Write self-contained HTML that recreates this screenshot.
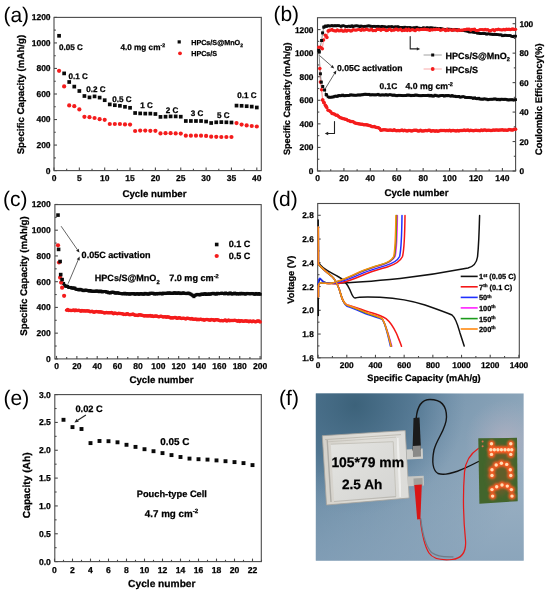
<!DOCTYPE html>
<html><head><meta charset="utf-8"><title>Figure</title>
<style>html,body{margin:0;padding:0;background:#fff;width:550px;height:595px;overflow:hidden}svg{display:block}</style>
</head><body>
<svg width="550" height="595" viewBox="0 0 550 595" font-family="'Liberation Sans', Arial, sans-serif" text-rendering="geometricPrecision">
<rect width="550" height="595" fill="#fff"/>
<defs>
<linearGradient id="bg" x1="0" y1="0" x2="1" y2="0.6">
 <stop offset="0" stop-color="#5a7e98"/><stop offset="0.45" stop-color="#7896ae"/><stop offset="1" stop-color="#9cb1c3"/>
</linearGradient>
<radialGradient id="dark" cx="355" cy="405" r="110" gradientUnits="userSpaceOnUse">
 <stop offset="0" stop-color="#3a6078" stop-opacity="0.95"/><stop offset="0.55" stop-color="#436a86" stop-opacity="0.6"/><stop offset="1" stop-color="#5a7e9c" stop-opacity="0"/>
</radialGradient>
<linearGradient id="bot" x1="0" y1="0" x2="0" y2="1">
 <stop offset="0" stop-color="#82a0b8" stop-opacity="0"/><stop offset="1" stop-color="#84a0b8" stop-opacity="0.7"/>
</linearGradient>
<radialGradient id="pinkglow" cx="505" cy="440" r="40" gradientUnits="userSpaceOnUse">
 <stop offset="0" stop-color="#d0b8c6" stop-opacity="0.45"/><stop offset="1" stop-color="#c0b8c8" stop-opacity="0"/>
</radialGradient>
<linearGradient id="pouch" x1="0" y1="0" x2="1" y2="1">
 <stop offset="0" stop-color="#e4e4e1"/><stop offset="0.5" stop-color="#dcdcd9"/><stop offset="1" stop-color="#d4d4d2"/>
</linearGradient>
<linearGradient id="seal" x1="0" y1="0" x2="1" y2="0">
 <stop offset="0" stop-color="#d4d1ca"/><stop offset="0.5" stop-color="#e0ded8"/><stop offset="1" stop-color="#dcdcd9"/>
</linearGradient>
<filter id="glow" x="-80%" y="-80%" width="260%" height="260%"><feGaussianBlur stdDeviation="1.3"/></filter>
<filter id="soft" x="-10%" y="-10%" width="120%" height="120%"><feGaussianBlur stdDeviation="0.45"/></filter>
<filter id="pcbblur" x="-20%" y="-20%" width="140%" height="140%"><feGaussianBlur stdDeviation="2.2"/></filter>
<clipPath id="photo"><rect x="315.6" y="393.3" width="208.2" height="167.4"/></clipPath>
</defs>
<g clip-path="url(#photo)">
<rect x="315.6" y="393.3" width="208.2" height="167.4" fill="url(#bg)"/>
<rect x="315.6" y="393.3" width="208.2" height="167.4" fill="url(#dark)"/>
<rect x="315.6" y="470" width="208.2" height="91" fill="url(#bot)"/>
<rect x="460" y="393.3" width="64" height="80" fill="url(#pinkglow)"/>
<polygon points="322.3,435.7 405.2,430.6 409.2,498 326.5,505" fill="url(#seal)" filter="url(#soft)"/>
<polygon points="330.8,444.2 393.2,441.7 395.8,496.4 334.2,501.5" fill="url(#pouch)" filter="url(#soft)"/>
<polyline points="330.8,444.2 393.2,441.7 395.8,496.4" fill="none" stroke="#c2bfb8" stroke-width="0.9" filter="url(#soft)"/>
<polyline points="325,439.6 401,434.6" fill="none" stroke="#b8b4aa" stroke-width="0.8" filter="url(#soft)"/>
<polyline points="327.5,441.8 396,437.2" fill="none" stroke="#bcb8ae" stroke-width="0.6" filter="url(#soft)"/>
<polygon points="322.3,435.7 405.2,430.6 409.2,498 326.5,505" fill="none" stroke="#a4a29c" stroke-width="0.8" filter="url(#soft)"/>
<polyline points="327.2,440 331,502" fill="none" stroke="#aeaca6" stroke-width="1.4" filter="url(#soft)"/>
<polyline points="397.5,438 400.5,497" fill="none" stroke="#eeeeec" stroke-width="2.2" filter="url(#soft)"/>
<polyline points="334,501.5 396,496.6" fill="none" stroke="#bcbab4" stroke-width="1.2" filter="url(#soft)"/>
<polygon points="406.5,449.5 422.7,448.6 423,458.8 407,459.4" fill="#cfcfcb" filter="url(#soft)"/>
<polygon points="407.5,476.5 423.7,475.8 424,485.6 408,486.2" fill="#c6c6c2" filter="url(#soft)"/>
<path d="M416.2,418 C417.5,405 423,399.5 430,399.5 C440,399.5 446.5,405 446.5,417 C446.5,429 437,438 434,450 C432,460 432.5,470 438,473.5 C448,477 466,468 478.5,461.5" fill="none" stroke="#141414" stroke-width="1.4" stroke-linejoin="round" stroke-linecap="round" />
<polygon points="413.5,418 419.5,417.5 421,450 412.5,450.5" fill="#1b1b1b"/>
<polygon points="412.8,446 420.8,445.6 421,456.6 413,457" fill="#8a8a88"/>
<path d="M478.3,448.5 C470,454 465.5,461 464.5,472 C463,492 463.5,520 465.5,540 C466.5,552 462,558.5 452,559.5 C441,560.5 433,559 429,553 C424.5,546 421.8,533 420.3,519" fill="none" stroke="#e61a1a" stroke-width="1.25" stroke-linejoin="round" stroke-linecap="round" />
<path d="M420.8,519 C422.5,534 425.5,546 431.5,552.5 C437,556.5 445,557.2 453,556.8" fill="none" stroke="#6f7c88" stroke-width="1.3" stroke-linejoin="round" stroke-linecap="round" />
<polygon points="413.5,478.5 422.5,478 422.8,486 413.8,486.4" fill="#a2a29e"/>
<polygon points="414.3,485 421.8,484.6 420.4,519 417.2,519.4" fill="#d81616"/>
<polygon points="478.3,438.3 517,437.8 517.7,501.2 479.4,503.7" fill="#42652c"/>
<ellipse cx="500" cy="470" rx="13" ry="26" fill="#7a5a2a" opacity="0.55" filter="url(#pcbblur)"/>
<circle cx="491.5" cy="443.8" r="3.5" fill="#ff5a22" filter="url(#glow)"/>
<circle cx="510.8" cy="443.8" r="3.5" fill="#ff5a22" filter="url(#glow)"/>
<circle cx="490.9" cy="449.7" r="3.5" fill="#ff5a22" filter="url(#glow)"/>
<circle cx="494.4" cy="449.7" r="3.5" fill="#ff5a22" filter="url(#glow)"/>
<circle cx="497.9" cy="449.7" r="3.5" fill="#ff5a22" filter="url(#glow)"/>
<circle cx="501.4" cy="449.7" r="3.5" fill="#ff5a22" filter="url(#glow)"/>
<circle cx="505" cy="449.7" r="3.5" fill="#ff5a22" filter="url(#glow)"/>
<circle cx="508.5" cy="449.7" r="3.5" fill="#ff5a22" filter="url(#glow)"/>
<circle cx="511.7" cy="449.7" r="3.5" fill="#ff5a22" filter="url(#glow)"/>
<circle cx="491.5" cy="454.4" r="3.5" fill="#ff5a22" filter="url(#glow)"/>
<circle cx="510.8" cy="454.4" r="3.5" fill="#ff5a22" filter="url(#glow)"/>
<circle cx="496.2" cy="465" r="3.5" fill="#ff5a22" filter="url(#glow)"/>
<circle cx="501.4" cy="463.2" r="3.5" fill="#ff5a22" filter="url(#glow)"/>
<circle cx="506.7" cy="464.4" r="3.5" fill="#ff5a22" filter="url(#glow)"/>
<circle cx="492" cy="469.7" r="3.5" fill="#ff5a22" filter="url(#glow)"/>
<circle cx="510.3" cy="469.7" r="3.5" fill="#ff5a22" filter="url(#glow)"/>
<circle cx="492" cy="475.5" r="3.5" fill="#ff5a22" filter="url(#glow)"/>
<circle cx="510.8" cy="475.5" r="3.5" fill="#ff5a22" filter="url(#glow)"/>
<circle cx="496.7" cy="486.7" r="3.5" fill="#ff5a22" filter="url(#glow)"/>
<circle cx="502" cy="485" r="3.5" fill="#ff5a22" filter="url(#glow)"/>
<circle cx="507.3" cy="486.1" r="3.5" fill="#ff5a22" filter="url(#glow)"/>
<circle cx="492" cy="489.6" r="3.5" fill="#ff5a22" filter="url(#glow)"/>
<circle cx="511.4" cy="489.6" r="3.5" fill="#ff5a22" filter="url(#glow)"/>
<circle cx="492.6" cy="496.1" r="3.5" fill="#ff5a22" filter="url(#glow)"/>
<circle cx="512" cy="496.1" r="3.5" fill="#ff5a22" filter="url(#glow)"/>
<circle cx="491.5" cy="443.8" r="1.7" fill="#ffdcb4" filter="url(#soft)"/>
<circle cx="510.8" cy="443.8" r="1.7" fill="#ffdcb4" filter="url(#soft)"/>
<circle cx="490.9" cy="449.7" r="1.7" fill="#ffdcb4" filter="url(#soft)"/>
<circle cx="494.4" cy="449.7" r="1.7" fill="#ffdcb4" filter="url(#soft)"/>
<circle cx="497.9" cy="449.7" r="1.7" fill="#ffdcb4" filter="url(#soft)"/>
<circle cx="501.4" cy="449.7" r="1.7" fill="#ffdcb4" filter="url(#soft)"/>
<circle cx="505" cy="449.7" r="1.7" fill="#ffdcb4" filter="url(#soft)"/>
<circle cx="508.5" cy="449.7" r="1.7" fill="#ffdcb4" filter="url(#soft)"/>
<circle cx="511.7" cy="449.7" r="1.7" fill="#ffdcb4" filter="url(#soft)"/>
<circle cx="491.5" cy="454.4" r="1.7" fill="#ffdcb4" filter="url(#soft)"/>
<circle cx="510.8" cy="454.4" r="1.7" fill="#ffdcb4" filter="url(#soft)"/>
<circle cx="496.2" cy="465" r="1.7" fill="#ffdcb4" filter="url(#soft)"/>
<circle cx="501.4" cy="463.2" r="1.7" fill="#ffdcb4" filter="url(#soft)"/>
<circle cx="506.7" cy="464.4" r="1.7" fill="#ffdcb4" filter="url(#soft)"/>
<circle cx="492" cy="469.7" r="1.7" fill="#ffdcb4" filter="url(#soft)"/>
<circle cx="510.3" cy="469.7" r="1.7" fill="#ffdcb4" filter="url(#soft)"/>
<circle cx="492" cy="475.5" r="1.7" fill="#ffdcb4" filter="url(#soft)"/>
<circle cx="510.8" cy="475.5" r="1.7" fill="#ffdcb4" filter="url(#soft)"/>
<circle cx="496.7" cy="486.7" r="1.7" fill="#ffdcb4" filter="url(#soft)"/>
<circle cx="502" cy="485" r="1.7" fill="#ffdcb4" filter="url(#soft)"/>
<circle cx="507.3" cy="486.1" r="1.7" fill="#ffdcb4" filter="url(#soft)"/>
<circle cx="492" cy="489.6" r="1.7" fill="#ffdcb4" filter="url(#soft)"/>
<circle cx="511.4" cy="489.6" r="1.7" fill="#ffdcb4" filter="url(#soft)"/>
<circle cx="492.6" cy="496.1" r="1.7" fill="#ffdcb4" filter="url(#soft)"/>
<circle cx="512" cy="496.1" r="1.7" fill="#ffdcb4" filter="url(#soft)"/>
<circle cx="482.6" cy="441.5" r="1" fill="#e07050"/><circle cx="482.6" cy="446.2" r="1" fill="#e07050"/>
</g>
<text x="331.40" y="466.60" font-size="13.9" text-anchor="start" font-weight="bold" fill="#000" stroke="#000" stroke-width="0.25" >105*79 mm</text>
<text x="342.00" y="488.80" font-size="13.6" text-anchor="start" font-weight="bold" fill="#000" stroke="#000" stroke-width="0.25" >2.5 Ah</text>
<rect x="54.00" y="17.40" width="207.30" height="153.20" fill="none" stroke="#4a4a4a" stroke-width="1.1"/>
<line x1="54.00" y1="170.60" x2="54.00" y2="167.60" stroke="#4a4a4a" stroke-width="1.1" />
<line x1="79.35" y1="170.60" x2="79.35" y2="167.60" stroke="#4a4a4a" stroke-width="1.1" />
<line x1="104.70" y1="170.60" x2="104.70" y2="167.60" stroke="#4a4a4a" stroke-width="1.1" />
<line x1="130.05" y1="170.60" x2="130.05" y2="167.60" stroke="#4a4a4a" stroke-width="1.1" />
<line x1="155.40" y1="170.60" x2="155.40" y2="167.60" stroke="#4a4a4a" stroke-width="1.1" />
<line x1="180.75" y1="170.60" x2="180.75" y2="167.60" stroke="#4a4a4a" stroke-width="1.1" />
<line x1="206.10" y1="170.60" x2="206.10" y2="167.60" stroke="#4a4a4a" stroke-width="1.1" />
<line x1="231.45" y1="170.60" x2="231.45" y2="167.60" stroke="#4a4a4a" stroke-width="1.1" />
<line x1="256.80" y1="170.60" x2="256.80" y2="167.60" stroke="#4a4a4a" stroke-width="1.1" />
<line x1="66.67" y1="170.60" x2="66.67" y2="168.80" stroke="#4a4a4a" stroke-width="1.1" />
<line x1="92.03" y1="170.60" x2="92.03" y2="168.80" stroke="#4a4a4a" stroke-width="1.1" />
<line x1="117.38" y1="170.60" x2="117.38" y2="168.80" stroke="#4a4a4a" stroke-width="1.1" />
<line x1="142.73" y1="170.60" x2="142.73" y2="168.80" stroke="#4a4a4a" stroke-width="1.1" />
<line x1="168.07" y1="170.60" x2="168.07" y2="168.80" stroke="#4a4a4a" stroke-width="1.1" />
<line x1="193.43" y1="170.60" x2="193.43" y2="168.80" stroke="#4a4a4a" stroke-width="1.1" />
<line x1="218.78" y1="170.60" x2="218.78" y2="168.80" stroke="#4a4a4a" stroke-width="1.1" />
<line x1="244.12" y1="170.60" x2="244.12" y2="168.80" stroke="#4a4a4a" stroke-width="1.1" />
<line x1="54.00" y1="170.60" x2="57.00" y2="170.60" stroke="#4a4a4a" stroke-width="1.1" />
<line x1="54.00" y1="145.07" x2="57.00" y2="145.07" stroke="#4a4a4a" stroke-width="1.1" />
<line x1="54.00" y1="119.53" x2="57.00" y2="119.53" stroke="#4a4a4a" stroke-width="1.1" />
<line x1="54.00" y1="94.00" x2="57.00" y2="94.00" stroke="#4a4a4a" stroke-width="1.1" />
<line x1="54.00" y1="68.46" x2="57.00" y2="68.46" stroke="#4a4a4a" stroke-width="1.1" />
<line x1="54.00" y1="42.93" x2="57.00" y2="42.93" stroke="#4a4a4a" stroke-width="1.1" />
<line x1="54.00" y1="17.40" x2="57.00" y2="17.40" stroke="#4a4a4a" stroke-width="1.1" />
<line x1="54.00" y1="157.83" x2="55.80" y2="157.83" stroke="#4a4a4a" stroke-width="1.1" />
<line x1="54.00" y1="132.30" x2="55.80" y2="132.30" stroke="#4a4a4a" stroke-width="1.1" />
<line x1="54.00" y1="106.76" x2="55.80" y2="106.76" stroke="#4a4a4a" stroke-width="1.1" />
<line x1="54.00" y1="81.23" x2="55.80" y2="81.23" stroke="#4a4a4a" stroke-width="1.1" />
<line x1="54.00" y1="55.70" x2="55.80" y2="55.70" stroke="#4a4a4a" stroke-width="1.1" />
<line x1="54.00" y1="30.16" x2="55.80" y2="30.16" stroke="#4a4a4a" stroke-width="1.1" />
<text x="54.00" y="181.20" font-size="8.5" text-anchor="middle" font-weight="bold" fill="#000" stroke="#000" stroke-width="0.25" >0</text>
<text x="79.35" y="181.20" font-size="8.5" text-anchor="middle" font-weight="bold" fill="#000" stroke="#000" stroke-width="0.25" >5</text>
<text x="104.70" y="181.20" font-size="8.5" text-anchor="middle" font-weight="bold" fill="#000" stroke="#000" stroke-width="0.25" >10</text>
<text x="130.05" y="181.20" font-size="8.5" text-anchor="middle" font-weight="bold" fill="#000" stroke="#000" stroke-width="0.25" >15</text>
<text x="155.40" y="181.20" font-size="8.5" text-anchor="middle" font-weight="bold" fill="#000" stroke="#000" stroke-width="0.25" >20</text>
<text x="180.75" y="181.20" font-size="8.5" text-anchor="middle" font-weight="bold" fill="#000" stroke="#000" stroke-width="0.25" >25</text>
<text x="206.10" y="181.20" font-size="8.5" text-anchor="middle" font-weight="bold" fill="#000" stroke="#000" stroke-width="0.25" >30</text>
<text x="231.45" y="181.20" font-size="8.5" text-anchor="middle" font-weight="bold" fill="#000" stroke="#000" stroke-width="0.25" >35</text>
<text x="256.80" y="181.20" font-size="8.5" text-anchor="middle" font-weight="bold" fill="#000" stroke="#000" stroke-width="0.25" >40</text>
<text x="50.60" y="173.50" font-size="8.5" text-anchor="end" font-weight="bold" fill="#000" stroke="#000" stroke-width="0.25" >0</text>
<text x="50.60" y="147.97" font-size="8.5" text-anchor="end" font-weight="bold" fill="#000" stroke="#000" stroke-width="0.25" >200</text>
<text x="50.60" y="122.43" font-size="8.5" text-anchor="end" font-weight="bold" fill="#000" stroke="#000" stroke-width="0.25" >400</text>
<text x="50.60" y="96.90" font-size="8.5" text-anchor="end" font-weight="bold" fill="#000" stroke="#000" stroke-width="0.25" >600</text>
<text x="50.60" y="71.36" font-size="8.5" text-anchor="end" font-weight="bold" fill="#000" stroke="#000" stroke-width="0.25" >800</text>
<text x="50.60" y="45.83" font-size="8.5" text-anchor="end" font-weight="bold" fill="#000" stroke="#000" stroke-width="0.25" >1000</text>
<text x="50.60" y="20.30" font-size="8.5" text-anchor="end" font-weight="bold" fill="#000" stroke="#000" stroke-width="0.25" >1200</text>
<text x="154.50" y="196.60" font-size="9.7" text-anchor="middle" font-weight="bold" fill="#000" stroke="#000" stroke-width="0.25" >Cycle number</text>
<text transform="translate(24.2,94.6) rotate(-90)" font-size="9.7" text-anchor="middle" font-weight="bold" fill="#000" stroke="#000" stroke-width="0.25">Specific Capacity (mAh/g)</text>
<circle cx="59.07" cy="70.80" r="2.1" fill="#f41c1c"/>
<circle cx="64.14" cy="86.40" r="2.1" fill="#f41c1c"/>
<circle cx="69.21" cy="105.40" r="2.1" fill="#f41c1c"/>
<circle cx="74.28" cy="106.20" r="2.1" fill="#f41c1c"/>
<circle cx="79.35" cy="109.40" r="2.1" fill="#f41c1c"/>
<circle cx="84.42" cy="116.80" r="2.1" fill="#f41c1c"/>
<circle cx="89.49" cy="117.20" r="2.1" fill="#f41c1c"/>
<circle cx="94.56" cy="118.00" r="2.1" fill="#f41c1c"/>
<circle cx="99.63" cy="119.20" r="2.1" fill="#f41c1c"/>
<circle cx="104.70" cy="119.80" r="2.1" fill="#f41c1c"/>
<circle cx="109.77" cy="124.00" r="2.1" fill="#f41c1c"/>
<circle cx="114.84" cy="124.00" r="2.1" fill="#f41c1c"/>
<circle cx="119.91" cy="124.00" r="2.1" fill="#f41c1c"/>
<circle cx="124.98" cy="124.40" r="2.1" fill="#f41c1c"/>
<circle cx="130.05" cy="124.60" r="2.1" fill="#f41c1c"/>
<circle cx="135.12" cy="131.00" r="2.1" fill="#f41c1c"/>
<circle cx="140.19" cy="130.60" r="2.1" fill="#f41c1c"/>
<circle cx="145.26" cy="130.60" r="2.1" fill="#f41c1c"/>
<circle cx="150.33" cy="130.80" r="2.1" fill="#f41c1c"/>
<circle cx="155.40" cy="130.80" r="2.1" fill="#f41c1c"/>
<circle cx="160.47" cy="133.40" r="2.1" fill="#f41c1c"/>
<circle cx="165.54" cy="133.20" r="2.1" fill="#f41c1c"/>
<circle cx="170.61" cy="133.20" r="2.1" fill="#f41c1c"/>
<circle cx="175.68" cy="133.40" r="2.1" fill="#f41c1c"/>
<circle cx="180.75" cy="133.60" r="2.1" fill="#f41c1c"/>
<circle cx="185.82" cy="135.70" r="2.1" fill="#f41c1c"/>
<circle cx="190.89" cy="135.70" r="2.1" fill="#f41c1c"/>
<circle cx="195.96" cy="135.70" r="2.1" fill="#f41c1c"/>
<circle cx="201.03" cy="135.70" r="2.1" fill="#f41c1c"/>
<circle cx="206.10" cy="135.90" r="2.1" fill="#f41c1c"/>
<circle cx="211.17" cy="136.70" r="2.1" fill="#f41c1c"/>
<circle cx="216.24" cy="136.80" r="2.1" fill="#f41c1c"/>
<circle cx="221.31" cy="137.00" r="2.1" fill="#f41c1c"/>
<circle cx="226.38" cy="137.00" r="2.1" fill="#f41c1c"/>
<circle cx="231.45" cy="137.00" r="2.1" fill="#f41c1c"/>
<circle cx="236.52" cy="123.10" r="2.1" fill="#f41c1c"/>
<circle cx="241.59" cy="124.60" r="2.1" fill="#f41c1c"/>
<circle cx="246.66" cy="125.40" r="2.1" fill="#f41c1c"/>
<circle cx="251.73" cy="126.00" r="2.1" fill="#f41c1c"/>
<circle cx="256.80" cy="126.50" r="2.1" fill="#f41c1c"/>
<rect x="57.22" y="33.95" width="3.7" height="3.7" fill="#0a0a0a"/>
<rect x="62.29" y="71.55" width="3.7" height="3.7" fill="#0a0a0a"/>
<rect x="67.36" y="80.15" width="3.7" height="3.7" fill="#0a0a0a"/>
<rect x="72.43" y="84.75" width="3.7" height="3.7" fill="#0a0a0a"/>
<rect x="77.50" y="89.15" width="3.7" height="3.7" fill="#0a0a0a"/>
<rect x="82.57" y="94.15" width="3.7" height="3.7" fill="#0a0a0a"/>
<rect x="87.64" y="95.55" width="3.7" height="3.7" fill="#0a0a0a"/>
<rect x="92.71" y="94.55" width="3.7" height="3.7" fill="#0a0a0a"/>
<rect x="97.78" y="95.75" width="3.7" height="3.7" fill="#0a0a0a"/>
<rect x="102.85" y="98.35" width="3.7" height="3.7" fill="#0a0a0a"/>
<rect x="107.92" y="102.55" width="3.7" height="3.7" fill="#0a0a0a"/>
<rect x="112.99" y="103.35" width="3.7" height="3.7" fill="#0a0a0a"/>
<rect x="118.06" y="103.95" width="3.7" height="3.7" fill="#0a0a0a"/>
<rect x="123.13" y="104.95" width="3.7" height="3.7" fill="#0a0a0a"/>
<rect x="128.20" y="105.95" width="3.7" height="3.7" fill="#0a0a0a"/>
<rect x="133.27" y="111.15" width="3.7" height="3.7" fill="#0a0a0a"/>
<rect x="138.34" y="111.55" width="3.7" height="3.7" fill="#0a0a0a"/>
<rect x="143.41" y="111.75" width="3.7" height="3.7" fill="#0a0a0a"/>
<rect x="148.48" y="111.75" width="3.7" height="3.7" fill="#0a0a0a"/>
<rect x="153.55" y="112.15" width="3.7" height="3.7" fill="#0a0a0a"/>
<rect x="158.62" y="115.05" width="3.7" height="3.7" fill="#0a0a0a"/>
<rect x="163.69" y="114.85" width="3.7" height="3.7" fill="#0a0a0a"/>
<rect x="168.76" y="114.55" width="3.7" height="3.7" fill="#0a0a0a"/>
<rect x="173.83" y="114.55" width="3.7" height="3.7" fill="#0a0a0a"/>
<rect x="178.90" y="114.85" width="3.7" height="3.7" fill="#0a0a0a"/>
<rect x="183.97" y="119.15" width="3.7" height="3.7" fill="#0a0a0a"/>
<rect x="189.04" y="119.15" width="3.7" height="3.7" fill="#0a0a0a"/>
<rect x="194.11" y="119.15" width="3.7" height="3.7" fill="#0a0a0a"/>
<rect x="199.18" y="119.15" width="3.7" height="3.7" fill="#0a0a0a"/>
<rect x="204.25" y="119.65" width="3.7" height="3.7" fill="#0a0a0a"/>
<rect x="209.32" y="121.15" width="3.7" height="3.7" fill="#0a0a0a"/>
<rect x="214.39" y="120.45" width="3.7" height="3.7" fill="#0a0a0a"/>
<rect x="219.46" y="120.25" width="3.7" height="3.7" fill="#0a0a0a"/>
<rect x="224.53" y="120.45" width="3.7" height="3.7" fill="#0a0a0a"/>
<rect x="229.60" y="120.65" width="3.7" height="3.7" fill="#0a0a0a"/>
<rect x="234.67" y="103.75" width="3.7" height="3.7" fill="#0a0a0a"/>
<rect x="239.74" y="103.95" width="3.7" height="3.7" fill="#0a0a0a"/>
<rect x="244.81" y="104.35" width="3.7" height="3.7" fill="#0a0a0a"/>
<rect x="249.88" y="104.75" width="3.7" height="3.7" fill="#0a0a0a"/>
<rect x="254.95" y="105.65" width="3.7" height="3.7" fill="#0a0a0a"/>
<text x="59.00" y="49.60" font-size="8.1" text-anchor="start" font-weight="bold" fill="#000" stroke="#000" stroke-width="0.25" >0.05 C</text>
<text x="68.60" y="79.20" font-size="8.1" text-anchor="start" font-weight="bold" fill="#000" stroke="#000" stroke-width="0.25" >0.1 C</text>
<text x="86.20" y="92.20" font-size="8.1" text-anchor="start" font-weight="bold" fill="#000" stroke="#000" stroke-width="0.25" >0.2 C</text>
<text x="112.20" y="101.50" font-size="8.1" text-anchor="start" font-weight="bold" fill="#000" stroke="#000" stroke-width="0.25" >0.5 C</text>
<text x="140.20" y="107.50" font-size="8.1" text-anchor="start" font-weight="bold" fill="#000" stroke="#000" stroke-width="0.25" >1 C</text>
<text x="165.80" y="113.40" font-size="8.1" text-anchor="start" font-weight="bold" fill="#000" stroke="#000" stroke-width="0.25" >2 C</text>
<text x="190.80" y="116.40" font-size="8.1" text-anchor="start" font-weight="bold" fill="#000" stroke="#000" stroke-width="0.25" >3 C</text>
<text x="217.00" y="118.10" font-size="8.1" text-anchor="start" font-weight="bold" fill="#000" stroke="#000" stroke-width="0.25" >5 C</text>
<text x="237.20" y="98.40" font-size="8.1" text-anchor="start" font-weight="bold" fill="#000" stroke="#000" stroke-width="0.25" >0.1 C</text>
<text x="120.40" y="49.70" font-size="8.2" text-anchor="start" font-weight="bold" fill="#000" stroke="#000" stroke-width="0.25" >4.0 mg cm<tspan dy="-3" font-size="5.2">-2</tspan></text>
<rect x="177.60" y="40.30" width="3.2" height="3.2" fill="#0a0a0a"/>
<circle cx="180.00" cy="53.30" r="1.9" fill="#f41c1c"/>
<text x="191.20" y="44.80" font-size="7.2" text-anchor="start" font-weight="bold" fill="#000" stroke="#000" stroke-width="0.25" >HPCs/S@MnO<tspan dy="2" font-size="5">2</tspan></text>
<text x="191.20" y="56.30" font-size="7.2" text-anchor="start" font-weight="bold" fill="#000" stroke="#000" stroke-width="0.25" >HPCs/S</text>
<rect x="317.50" y="17.70" width="198.10" height="153.30" fill="none" stroke="#4a4a4a" stroke-width="1.1"/>
<line x1="317.50" y1="171.00" x2="317.50" y2="168.00" stroke="#4a4a4a" stroke-width="1.1" />
<line x1="343.91" y1="171.00" x2="343.91" y2="168.00" stroke="#4a4a4a" stroke-width="1.1" />
<line x1="370.33" y1="171.00" x2="370.33" y2="168.00" stroke="#4a4a4a" stroke-width="1.1" />
<line x1="396.74" y1="171.00" x2="396.74" y2="168.00" stroke="#4a4a4a" stroke-width="1.1" />
<line x1="423.16" y1="171.00" x2="423.16" y2="168.00" stroke="#4a4a4a" stroke-width="1.1" />
<line x1="449.57" y1="171.00" x2="449.57" y2="168.00" stroke="#4a4a4a" stroke-width="1.1" />
<line x1="475.98" y1="171.00" x2="475.98" y2="168.00" stroke="#4a4a4a" stroke-width="1.1" />
<line x1="502.40" y1="171.00" x2="502.40" y2="168.00" stroke="#4a4a4a" stroke-width="1.1" />
<line x1="330.71" y1="171.00" x2="330.71" y2="169.20" stroke="#4a4a4a" stroke-width="1.1" />
<line x1="357.12" y1="171.00" x2="357.12" y2="169.20" stroke="#4a4a4a" stroke-width="1.1" />
<line x1="383.53" y1="171.00" x2="383.53" y2="169.20" stroke="#4a4a4a" stroke-width="1.1" />
<line x1="409.95" y1="171.00" x2="409.95" y2="169.20" stroke="#4a4a4a" stroke-width="1.1" />
<line x1="436.36" y1="171.00" x2="436.36" y2="169.20" stroke="#4a4a4a" stroke-width="1.1" />
<line x1="462.78" y1="171.00" x2="462.78" y2="169.20" stroke="#4a4a4a" stroke-width="1.1" />
<line x1="489.19" y1="171.00" x2="489.19" y2="169.20" stroke="#4a4a4a" stroke-width="1.1" />
<line x1="515.61" y1="171.00" x2="515.61" y2="169.20" stroke="#4a4a4a" stroke-width="1.1" />
<line x1="317.50" y1="171.00" x2="320.50" y2="171.00" stroke="#4a4a4a" stroke-width="1.1" />
<line x1="317.50" y1="147.43" x2="320.50" y2="147.43" stroke="#4a4a4a" stroke-width="1.1" />
<line x1="317.50" y1="123.86" x2="320.50" y2="123.86" stroke="#4a4a4a" stroke-width="1.1" />
<line x1="317.50" y1="100.29" x2="320.50" y2="100.29" stroke="#4a4a4a" stroke-width="1.1" />
<line x1="317.50" y1="76.72" x2="320.50" y2="76.72" stroke="#4a4a4a" stroke-width="1.1" />
<line x1="317.50" y1="53.15" x2="320.50" y2="53.15" stroke="#4a4a4a" stroke-width="1.1" />
<line x1="317.50" y1="29.58" x2="320.50" y2="29.58" stroke="#4a4a4a" stroke-width="1.1" />
<line x1="317.50" y1="159.22" x2="319.30" y2="159.22" stroke="#4a4a4a" stroke-width="1.1" />
<line x1="317.50" y1="135.65" x2="319.30" y2="135.65" stroke="#4a4a4a" stroke-width="1.1" />
<line x1="317.50" y1="112.08" x2="319.30" y2="112.08" stroke="#4a4a4a" stroke-width="1.1" />
<line x1="317.50" y1="88.50" x2="319.30" y2="88.50" stroke="#4a4a4a" stroke-width="1.1" />
<line x1="317.50" y1="64.94" x2="319.30" y2="64.94" stroke="#4a4a4a" stroke-width="1.1" />
<line x1="317.50" y1="41.37" x2="319.30" y2="41.37" stroke="#4a4a4a" stroke-width="1.1" />
<line x1="515.60" y1="171.00" x2="512.60" y2="171.00" stroke="#4a4a4a" stroke-width="1.1" />
<line x1="515.60" y1="141.54" x2="512.60" y2="141.54" stroke="#4a4a4a" stroke-width="1.1" />
<line x1="515.60" y1="112.08" x2="512.60" y2="112.08" stroke="#4a4a4a" stroke-width="1.1" />
<line x1="515.60" y1="82.61" x2="512.60" y2="82.61" stroke="#4a4a4a" stroke-width="1.1" />
<line x1="515.60" y1="53.15" x2="512.60" y2="53.15" stroke="#4a4a4a" stroke-width="1.1" />
<line x1="515.60" y1="23.69" x2="512.60" y2="23.69" stroke="#4a4a4a" stroke-width="1.1" />
<line x1="515.60" y1="156.27" x2="513.80" y2="156.27" stroke="#4a4a4a" stroke-width="1.1" />
<line x1="515.60" y1="126.81" x2="513.80" y2="126.81" stroke="#4a4a4a" stroke-width="1.1" />
<line x1="515.60" y1="97.34" x2="513.80" y2="97.34" stroke="#4a4a4a" stroke-width="1.1" />
<line x1="515.60" y1="67.88" x2="513.80" y2="67.88" stroke="#4a4a4a" stroke-width="1.1" />
<line x1="515.60" y1="38.42" x2="513.80" y2="38.42" stroke="#4a4a4a" stroke-width="1.1" />
<text x="317.50" y="181.00" font-size="8.5" text-anchor="middle" font-weight="bold" fill="#000" stroke="#000" stroke-width="0.25" >0</text>
<text x="343.91" y="181.00" font-size="8.5" text-anchor="middle" font-weight="bold" fill="#000" stroke="#000" stroke-width="0.25" >20</text>
<text x="370.33" y="181.00" font-size="8.5" text-anchor="middle" font-weight="bold" fill="#000" stroke="#000" stroke-width="0.25" >40</text>
<text x="396.74" y="181.00" font-size="8.5" text-anchor="middle" font-weight="bold" fill="#000" stroke="#000" stroke-width="0.25" >60</text>
<text x="423.16" y="181.00" font-size="8.5" text-anchor="middle" font-weight="bold" fill="#000" stroke="#000" stroke-width="0.25" >80</text>
<text x="449.57" y="181.00" font-size="8.5" text-anchor="middle" font-weight="bold" fill="#000" stroke="#000" stroke-width="0.25" >100</text>
<text x="475.98" y="181.00" font-size="8.5" text-anchor="middle" font-weight="bold" fill="#000" stroke="#000" stroke-width="0.25" >120</text>
<text x="502.40" y="181.00" font-size="8.5" text-anchor="middle" font-weight="bold" fill="#000" stroke="#000" stroke-width="0.25" >140</text>
<text x="313.40" y="174.00" font-size="8.3" text-anchor="end" font-weight="bold" fill="#000" stroke="#000" stroke-width="0.25" >0</text>
<text x="313.40" y="150.43" font-size="8.3" text-anchor="end" font-weight="bold" fill="#000" stroke="#000" stroke-width="0.25" >200</text>
<text x="313.40" y="126.86" font-size="8.3" text-anchor="end" font-weight="bold" fill="#000" stroke="#000" stroke-width="0.25" >400</text>
<text x="313.40" y="103.29" font-size="8.3" text-anchor="end" font-weight="bold" fill="#000" stroke="#000" stroke-width="0.25" >600</text>
<text x="313.40" y="79.72" font-size="8.3" text-anchor="end" font-weight="bold" fill="#000" stroke="#000" stroke-width="0.25" >800</text>
<text x="313.40" y="56.15" font-size="8.3" text-anchor="end" font-weight="bold" fill="#000" stroke="#000" stroke-width="0.25" >1000</text>
<text x="313.40" y="32.58" font-size="8.3" text-anchor="end" font-weight="bold" fill="#000" stroke="#000" stroke-width="0.25" >1200</text>
<text x="519.40" y="174.00" font-size="8.3" text-anchor="start" font-weight="bold" fill="#000" stroke="#000" stroke-width="0.25" >0</text>
<text x="519.40" y="144.54" font-size="8.3" text-anchor="start" font-weight="bold" fill="#000" stroke="#000" stroke-width="0.25" >20</text>
<text x="519.40" y="115.08" font-size="8.3" text-anchor="start" font-weight="bold" fill="#000" stroke="#000" stroke-width="0.25" >40</text>
<text x="519.40" y="85.61" font-size="8.3" text-anchor="start" font-weight="bold" fill="#000" stroke="#000" stroke-width="0.25" >60</text>
<text x="519.40" y="56.15" font-size="8.3" text-anchor="start" font-weight="bold" fill="#000" stroke="#000" stroke-width="0.25" >80</text>
<text x="519.40" y="26.69" font-size="8.3" text-anchor="start" font-weight="bold" fill="#000" stroke="#000" stroke-width="0.25" >100</text>
<text x="416.50" y="195.50" font-size="9.7" text-anchor="middle" font-weight="bold" fill="#000" stroke="#000" stroke-width="0.25" >Cycle number</text>
<text transform="translate(289.6,98.8) rotate(-90)" font-size="9.15" text-anchor="middle" font-weight="bold" fill="#000" stroke="#000" stroke-width="0.25">Specific Capacity (mAh/g)</text>
<text transform="translate(541.6,99.3) rotate(-90)" font-size="9.55" text-anchor="middle" font-weight="bold" fill="#000" stroke="#000" stroke-width="0.25">Coulombic Efficiency(%)</text>
<polyline points="319.80,68.50 320.40,82.10 321.60,89.70 322.60,100.00 323.80,102.60 326.10,106.40 327.60,109.40 331.00,112.60 335.80,115.10 343.80,118.90 353.30,122.20 363.00,124.60 371.00,126.10 379.00,127.30 380.50,130.60 383.00,130.20 386.90,129.90 400.00,130.40 440.00,130.80 480.00,130.40 515.00,129.60" fill="none" stroke="#f87070" stroke-width="0.8" stroke-linejoin="round" stroke-linecap="round" />
<polyline points="318.80,47.30 320.40,47.30 322.30,48.80 323.50,40.00 325.40,35.20 326.90,37.40 328.50,31.00 332.00,30.20 340.00,30.50 360.00,30.00 380.00,29.80 400.00,29.90 430.00,30.00 460.00,29.80 490.00,30.00 515.00,29.80" fill="none" stroke="#f87070" stroke-width="0.8" stroke-linejoin="round" stroke-linecap="round" />
<polyline points="318.80,50.50 320.40,73.80 321.30,82.10 322.70,86.50 324.60,90.00 326.20,94.50 328.00,96.80 330.00,97.20 334.00,96.50 340.00,95.60 363.00,94.60 380.00,94.80 400.00,95.40 430.00,95.60 452.00,95.80 465.00,97.40 487.00,99.30 515.00,99.60" fill="none" stroke="#777" stroke-width="0.8" stroke-linejoin="round" stroke-linecap="round" />
<polyline points="319.30,51.80 321.60,40.50 322.60,32.90 323.80,27.20 326.00,26.20 330.00,26.00 350.00,26.20 380.00,26.50 400.00,27.20 430.00,28.20 454.00,29.60 470.00,31.60 487.00,34.20 500.00,35.20 515.00,36.20" fill="none" stroke="#777" stroke-width="0.8" stroke-linejoin="round" stroke-linecap="round" />
<polyline points="326.00,26.20 330.00,26.00 350.00,26.20 380.00,26.50 400.00,27.20 430.00,28.20 454.00,29.60 470.00,31.60 487.00,34.20 500.00,35.20 515.00,36.20" fill="none" stroke="#0a0a0a" stroke-width="1.6" stroke-linejoin="round" stroke-linecap="round" />
<rect x="322.80" y="25.55" width="2.6" height="2.6" fill="#0a0a0a"/>
<rect x="324.12" y="24.74" width="2.6" height="2.6" fill="#0a0a0a"/>
<rect x="325.44" y="25.04" width="2.6" height="2.6" fill="#0a0a0a"/>
<rect x="326.77" y="24.28" width="2.6" height="2.6" fill="#0a0a0a"/>
<rect x="328.09" y="24.77" width="2.6" height="2.6" fill="#0a0a0a"/>
<rect x="329.41" y="24.55" width="2.6" height="2.6" fill="#0a0a0a"/>
<rect x="330.73" y="24.19" width="2.6" height="2.6" fill="#0a0a0a"/>
<rect x="332.05" y="24.74" width="2.6" height="2.6" fill="#0a0a0a"/>
<rect x="333.37" y="24.19" width="2.6" height="2.6" fill="#0a0a0a"/>
<rect x="334.69" y="24.68" width="2.6" height="2.6" fill="#0a0a0a"/>
<rect x="336.01" y="24.26" width="2.6" height="2.6" fill="#0a0a0a"/>
<rect x="337.33" y="24.30" width="2.6" height="2.6" fill="#0a0a0a"/>
<rect x="338.65" y="24.71" width="2.6" height="2.6" fill="#0a0a0a"/>
<rect x="339.97" y="25.20" width="2.6" height="2.6" fill="#0a0a0a"/>
<rect x="341.29" y="24.37" width="2.6" height="2.6" fill="#0a0a0a"/>
<rect x="342.61" y="24.51" width="2.6" height="2.6" fill="#0a0a0a"/>
<rect x="343.93" y="25.01" width="2.6" height="2.6" fill="#0a0a0a"/>
<rect x="345.26" y="25.40" width="2.6" height="2.6" fill="#0a0a0a"/>
<rect x="346.58" y="24.97" width="2.6" height="2.6" fill="#0a0a0a"/>
<rect x="347.90" y="24.77" width="2.6" height="2.6" fill="#0a0a0a"/>
<rect x="349.22" y="25.48" width="2.6" height="2.6" fill="#0a0a0a"/>
<rect x="350.54" y="24.37" width="2.6" height="2.6" fill="#0a0a0a"/>
<rect x="351.86" y="25.36" width="2.6" height="2.6" fill="#0a0a0a"/>
<rect x="353.18" y="24.69" width="2.6" height="2.6" fill="#0a0a0a"/>
<rect x="354.50" y="24.53" width="2.6" height="2.6" fill="#0a0a0a"/>
<rect x="355.82" y="24.51" width="2.6" height="2.6" fill="#0a0a0a"/>
<rect x="357.14" y="24.75" width="2.6" height="2.6" fill="#0a0a0a"/>
<rect x="358.46" y="25.38" width="2.6" height="2.6" fill="#0a0a0a"/>
<rect x="359.78" y="24.63" width="2.6" height="2.6" fill="#0a0a0a"/>
<rect x="361.10" y="25.12" width="2.6" height="2.6" fill="#0a0a0a"/>
<rect x="362.42" y="25.20" width="2.6" height="2.6" fill="#0a0a0a"/>
<rect x="363.75" y="24.90" width="2.6" height="2.6" fill="#0a0a0a"/>
<rect x="365.07" y="25.12" width="2.6" height="2.6" fill="#0a0a0a"/>
<rect x="366.39" y="24.55" width="2.6" height="2.6" fill="#0a0a0a"/>
<rect x="367.71" y="24.56" width="2.6" height="2.6" fill="#0a0a0a"/>
<rect x="369.03" y="24.75" width="2.6" height="2.6" fill="#0a0a0a"/>
<rect x="370.35" y="25.33" width="2.6" height="2.6" fill="#0a0a0a"/>
<rect x="371.67" y="25.04" width="2.6" height="2.6" fill="#0a0a0a"/>
<rect x="372.99" y="24.92" width="2.6" height="2.6" fill="#0a0a0a"/>
<rect x="374.31" y="25.26" width="2.6" height="2.6" fill="#0a0a0a"/>
<rect x="375.63" y="25.11" width="2.6" height="2.6" fill="#0a0a0a"/>
<rect x="376.95" y="24.94" width="2.6" height="2.6" fill="#0a0a0a"/>
<rect x="378.27" y="25.55" width="2.6" height="2.6" fill="#0a0a0a"/>
<rect x="379.59" y="25.47" width="2.6" height="2.6" fill="#0a0a0a"/>
<rect x="380.91" y="24.97" width="2.6" height="2.6" fill="#0a0a0a"/>
<rect x="382.23" y="25.41" width="2.6" height="2.6" fill="#0a0a0a"/>
<rect x="383.56" y="25.40" width="2.6" height="2.6" fill="#0a0a0a"/>
<rect x="384.88" y="25.87" width="2.6" height="2.6" fill="#0a0a0a"/>
<rect x="386.20" y="25.74" width="2.6" height="2.6" fill="#0a0a0a"/>
<rect x="387.52" y="25.25" width="2.6" height="2.6" fill="#0a0a0a"/>
<rect x="388.84" y="26.13" width="2.6" height="2.6" fill="#0a0a0a"/>
<rect x="390.16" y="25.14" width="2.6" height="2.6" fill="#0a0a0a"/>
<rect x="391.48" y="25.55" width="2.6" height="2.6" fill="#0a0a0a"/>
<rect x="392.80" y="26.00" width="2.6" height="2.6" fill="#0a0a0a"/>
<rect x="394.12" y="25.32" width="2.6" height="2.6" fill="#0a0a0a"/>
<rect x="395.44" y="25.77" width="2.6" height="2.6" fill="#0a0a0a"/>
<rect x="396.76" y="25.28" width="2.6" height="2.6" fill="#0a0a0a"/>
<rect x="398.08" y="26.08" width="2.6" height="2.6" fill="#0a0a0a"/>
<rect x="399.40" y="26.24" width="2.6" height="2.6" fill="#0a0a0a"/>
<rect x="400.72" y="26.06" width="2.6" height="2.6" fill="#0a0a0a"/>
<rect x="402.05" y="26.46" width="2.6" height="2.6" fill="#0a0a0a"/>
<rect x="403.37" y="25.83" width="2.6" height="2.6" fill="#0a0a0a"/>
<rect x="404.69" y="26.33" width="2.6" height="2.6" fill="#0a0a0a"/>
<rect x="406.01" y="26.26" width="2.6" height="2.6" fill="#0a0a0a"/>
<rect x="407.33" y="26.28" width="2.6" height="2.6" fill="#0a0a0a"/>
<rect x="408.65" y="26.18" width="2.6" height="2.6" fill="#0a0a0a"/>
<rect x="409.97" y="26.68" width="2.6" height="2.6" fill="#0a0a0a"/>
<rect x="411.29" y="26.85" width="2.6" height="2.6" fill="#0a0a0a"/>
<rect x="412.61" y="26.33" width="2.6" height="2.6" fill="#0a0a0a"/>
<rect x="413.93" y="26.60" width="2.6" height="2.6" fill="#0a0a0a"/>
<rect x="415.25" y="25.92" width="2.6" height="2.6" fill="#0a0a0a"/>
<rect x="416.57" y="26.74" width="2.6" height="2.6" fill="#0a0a0a"/>
<rect x="417.89" y="26.72" width="2.6" height="2.6" fill="#0a0a0a"/>
<rect x="419.21" y="27.18" width="2.6" height="2.6" fill="#0a0a0a"/>
<rect x="420.54" y="27.01" width="2.6" height="2.6" fill="#0a0a0a"/>
<rect x="421.86" y="26.41" width="2.6" height="2.6" fill="#0a0a0a"/>
<rect x="423.18" y="26.58" width="2.6" height="2.6" fill="#0a0a0a"/>
<rect x="424.50" y="26.96" width="2.6" height="2.6" fill="#0a0a0a"/>
<rect x="425.82" y="26.23" width="2.6" height="2.6" fill="#0a0a0a"/>
<rect x="427.14" y="26.80" width="2.6" height="2.6" fill="#0a0a0a"/>
<rect x="428.46" y="26.49" width="2.6" height="2.6" fill="#0a0a0a"/>
<rect x="429.78" y="26.50" width="2.6" height="2.6" fill="#0a0a0a"/>
<rect x="431.10" y="26.51" width="2.6" height="2.6" fill="#0a0a0a"/>
<rect x="432.42" y="27.44" width="2.6" height="2.6" fill="#0a0a0a"/>
<rect x="433.74" y="26.75" width="2.6" height="2.6" fill="#0a0a0a"/>
<rect x="435.06" y="26.97" width="2.6" height="2.6" fill="#0a0a0a"/>
<rect x="436.38" y="27.22" width="2.6" height="2.6" fill="#0a0a0a"/>
<rect x="437.70" y="27.87" width="2.6" height="2.6" fill="#0a0a0a"/>
<rect x="439.03" y="27.00" width="2.6" height="2.6" fill="#0a0a0a"/>
<rect x="440.35" y="27.52" width="2.6" height="2.6" fill="#0a0a0a"/>
<rect x="441.67" y="27.72" width="2.6" height="2.6" fill="#0a0a0a"/>
<rect x="442.99" y="28.19" width="2.6" height="2.6" fill="#0a0a0a"/>
<rect x="444.31" y="28.19" width="2.6" height="2.6" fill="#0a0a0a"/>
<rect x="445.63" y="28.32" width="2.6" height="2.6" fill="#0a0a0a"/>
<rect x="446.95" y="27.70" width="2.6" height="2.6" fill="#0a0a0a"/>
<rect x="448.27" y="27.94" width="2.6" height="2.6" fill="#0a0a0a"/>
<rect x="449.59" y="27.95" width="2.6" height="2.6" fill="#0a0a0a"/>
<rect x="450.91" y="28.66" width="2.6" height="2.6" fill="#0a0a0a"/>
<rect x="452.23" y="28.82" width="2.6" height="2.6" fill="#0a0a0a"/>
<rect x="453.55" y="27.99" width="2.6" height="2.6" fill="#0a0a0a"/>
<rect x="454.87" y="28.18" width="2.6" height="2.6" fill="#0a0a0a"/>
<rect x="456.19" y="28.42" width="2.6" height="2.6" fill="#0a0a0a"/>
<rect x="457.51" y="28.58" width="2.6" height="2.6" fill="#0a0a0a"/>
<rect x="458.84" y="29.05" width="2.6" height="2.6" fill="#0a0a0a"/>
<rect x="460.16" y="29.34" width="2.6" height="2.6" fill="#0a0a0a"/>
<rect x="461.48" y="29.11" width="2.6" height="2.6" fill="#0a0a0a"/>
<rect x="462.80" y="28.97" width="2.6" height="2.6" fill="#0a0a0a"/>
<rect x="464.12" y="29.63" width="2.6" height="2.6" fill="#0a0a0a"/>
<rect x="465.44" y="29.74" width="2.6" height="2.6" fill="#0a0a0a"/>
<rect x="466.76" y="30.14" width="2.6" height="2.6" fill="#0a0a0a"/>
<rect x="468.08" y="30.77" width="2.6" height="2.6" fill="#0a0a0a"/>
<rect x="469.40" y="30.64" width="2.6" height="2.6" fill="#0a0a0a"/>
<rect x="470.72" y="30.63" width="2.6" height="2.6" fill="#0a0a0a"/>
<rect x="472.04" y="30.95" width="2.6" height="2.6" fill="#0a0a0a"/>
<rect x="473.36" y="31.22" width="2.6" height="2.6" fill="#0a0a0a"/>
<rect x="474.68" y="30.68" width="2.6" height="2.6" fill="#0a0a0a"/>
<rect x="476.00" y="31.90" width="2.6" height="2.6" fill="#0a0a0a"/>
<rect x="477.33" y="31.96" width="2.6" height="2.6" fill="#0a0a0a"/>
<rect x="478.65" y="32.27" width="2.6" height="2.6" fill="#0a0a0a"/>
<rect x="479.97" y="32.38" width="2.6" height="2.6" fill="#0a0a0a"/>
<rect x="481.29" y="32.10" width="2.6" height="2.6" fill="#0a0a0a"/>
<rect x="482.61" y="32.31" width="2.6" height="2.6" fill="#0a0a0a"/>
<rect x="483.93" y="32.15" width="2.6" height="2.6" fill="#0a0a0a"/>
<rect x="485.25" y="32.99" width="2.6" height="2.6" fill="#0a0a0a"/>
<rect x="486.57" y="32.44" width="2.6" height="2.6" fill="#0a0a0a"/>
<rect x="487.89" y="32.55" width="2.6" height="2.6" fill="#0a0a0a"/>
<rect x="489.21" y="32.82" width="2.6" height="2.6" fill="#0a0a0a"/>
<rect x="490.53" y="32.87" width="2.6" height="2.6" fill="#0a0a0a"/>
<rect x="491.85" y="33.18" width="2.6" height="2.6" fill="#0a0a0a"/>
<rect x="493.17" y="32.94" width="2.6" height="2.6" fill="#0a0a0a"/>
<rect x="494.49" y="32.98" width="2.6" height="2.6" fill="#0a0a0a"/>
<rect x="495.82" y="33.26" width="2.6" height="2.6" fill="#0a0a0a"/>
<rect x="497.14" y="33.30" width="2.6" height="2.6" fill="#0a0a0a"/>
<rect x="498.46" y="33.72" width="2.6" height="2.6" fill="#0a0a0a"/>
<rect x="499.78" y="33.40" width="2.6" height="2.6" fill="#0a0a0a"/>
<rect x="501.10" y="34.51" width="2.6" height="2.6" fill="#0a0a0a"/>
<rect x="502.42" y="34.28" width="2.6" height="2.6" fill="#0a0a0a"/>
<rect x="503.74" y="33.81" width="2.6" height="2.6" fill="#0a0a0a"/>
<rect x="505.06" y="34.03" width="2.6" height="2.6" fill="#0a0a0a"/>
<rect x="506.38" y="34.23" width="2.6" height="2.6" fill="#0a0a0a"/>
<rect x="507.70" y="34.34" width="2.6" height="2.6" fill="#0a0a0a"/>
<rect x="509.02" y="34.14" width="2.6" height="2.6" fill="#0a0a0a"/>
<rect x="510.34" y="35.09" width="2.6" height="2.6" fill="#0a0a0a"/>
<rect x="511.66" y="35.36" width="2.6" height="2.6" fill="#0a0a0a"/>
<rect x="512.98" y="34.81" width="2.6" height="2.6" fill="#0a0a0a"/>
<rect x="514.31" y="34.88" width="2.6" height="2.6" fill="#0a0a0a"/>
<polyline points="322.60,100.00 323.80,102.60 326.10,106.40 327.60,109.40 331.00,112.60 335.80,115.10 343.80,118.90 353.30,122.20 363.00,124.60 371.00,126.10 379.00,127.30 380.50,130.60 383.00,130.20 386.90,129.90 400.00,130.40 440.00,130.80 480.00,130.40 515.00,129.60" fill="none" stroke="#f41c1c" stroke-width="1.6" stroke-linejoin="round" stroke-linecap="round" />
<circle cx="322.78" cy="99.98" r="1.75" fill="#f41c1c"/>
<circle cx="324.10" cy="102.70" r="1.75" fill="#f41c1c"/>
<circle cx="325.42" cy="105.13" r="1.75" fill="#f41c1c"/>
<circle cx="326.74" cy="107.45" r="1.75" fill="#f41c1c"/>
<circle cx="328.07" cy="110.17" r="1.75" fill="#f41c1c"/>
<circle cx="329.39" cy="110.74" r="1.75" fill="#f41c1c"/>
<circle cx="330.71" cy="111.85" r="1.75" fill="#f41c1c"/>
<circle cx="332.03" cy="113.59" r="1.75" fill="#f41c1c"/>
<circle cx="333.35" cy="113.85" r="1.75" fill="#f41c1c"/>
<circle cx="334.67" cy="114.16" r="1.75" fill="#f41c1c"/>
<circle cx="335.99" cy="115.23" r="1.75" fill="#f41c1c"/>
<circle cx="337.31" cy="115.34" r="1.75" fill="#f41c1c"/>
<circle cx="338.63" cy="116.47" r="1.75" fill="#f41c1c"/>
<circle cx="339.95" cy="117.55" r="1.75" fill="#f41c1c"/>
<circle cx="341.27" cy="118.06" r="1.75" fill="#f41c1c"/>
<circle cx="342.59" cy="118.52" r="1.75" fill="#f41c1c"/>
<circle cx="343.91" cy="118.70" r="1.75" fill="#f41c1c"/>
<circle cx="345.23" cy="119.27" r="1.75" fill="#f41c1c"/>
<circle cx="346.56" cy="119.52" r="1.75" fill="#f41c1c"/>
<circle cx="347.88" cy="120.59" r="1.75" fill="#f41c1c"/>
<circle cx="349.20" cy="120.81" r="1.75" fill="#f41c1c"/>
<circle cx="350.52" cy="121.51" r="1.75" fill="#f41c1c"/>
<circle cx="351.84" cy="121.52" r="1.75" fill="#f41c1c"/>
<circle cx="353.16" cy="121.87" r="1.75" fill="#f41c1c"/>
<circle cx="354.48" cy="122.80" r="1.75" fill="#f41c1c"/>
<circle cx="355.80" cy="123.30" r="1.75" fill="#f41c1c"/>
<circle cx="357.12" cy="123.50" r="1.75" fill="#f41c1c"/>
<circle cx="358.44" cy="123.78" r="1.75" fill="#f41c1c"/>
<circle cx="359.76" cy="124.12" r="1.75" fill="#f41c1c"/>
<circle cx="361.08" cy="124.37" r="1.75" fill="#f41c1c"/>
<circle cx="362.40" cy="124.18" r="1.75" fill="#f41c1c"/>
<circle cx="363.72" cy="124.75" r="1.75" fill="#f41c1c"/>
<circle cx="365.05" cy="124.84" r="1.75" fill="#f41c1c"/>
<circle cx="366.37" cy="124.76" r="1.75" fill="#f41c1c"/>
<circle cx="367.69" cy="125.01" r="1.75" fill="#f41c1c"/>
<circle cx="369.01" cy="125.51" r="1.75" fill="#f41c1c"/>
<circle cx="370.33" cy="125.73" r="1.75" fill="#f41c1c"/>
<circle cx="371.65" cy="126.39" r="1.75" fill="#f41c1c"/>
<circle cx="372.97" cy="126.85" r="1.75" fill="#f41c1c"/>
<circle cx="374.29" cy="126.54" r="1.75" fill="#f41c1c"/>
<circle cx="375.61" cy="127.23" r="1.75" fill="#f41c1c"/>
<circle cx="376.93" cy="127.48" r="1.75" fill="#f41c1c"/>
<circle cx="378.25" cy="127.64" r="1.75" fill="#f41c1c"/>
<circle cx="379.57" cy="128.43" r="1.75" fill="#f41c1c"/>
<circle cx="380.89" cy="130.26" r="1.75" fill="#f41c1c"/>
<circle cx="382.21" cy="130.05" r="1.75" fill="#f41c1c"/>
<circle cx="383.53" cy="129.86" r="1.75" fill="#f41c1c"/>
<circle cx="384.86" cy="129.76" r="1.75" fill="#f41c1c"/>
<circle cx="386.18" cy="130.08" r="1.75" fill="#f41c1c"/>
<circle cx="387.50" cy="130.32" r="1.75" fill="#f41c1c"/>
<circle cx="388.82" cy="130.31" r="1.75" fill="#f41c1c"/>
<circle cx="390.14" cy="130.00" r="1.75" fill="#f41c1c"/>
<circle cx="391.46" cy="130.23" r="1.75" fill="#f41c1c"/>
<circle cx="392.78" cy="130.42" r="1.75" fill="#f41c1c"/>
<circle cx="394.10" cy="129.76" r="1.75" fill="#f41c1c"/>
<circle cx="395.42" cy="130.39" r="1.75" fill="#f41c1c"/>
<circle cx="396.74" cy="130.69" r="1.75" fill="#f41c1c"/>
<circle cx="398.06" cy="130.61" r="1.75" fill="#f41c1c"/>
<circle cx="399.38" cy="130.63" r="1.75" fill="#f41c1c"/>
<circle cx="400.70" cy="130.39" r="1.75" fill="#f41c1c"/>
<circle cx="402.02" cy="130.10" r="1.75" fill="#f41c1c"/>
<circle cx="403.35" cy="130.72" r="1.75" fill="#f41c1c"/>
<circle cx="404.67" cy="130.28" r="1.75" fill="#f41c1c"/>
<circle cx="405.99" cy="130.76" r="1.75" fill="#f41c1c"/>
<circle cx="407.31" cy="130.94" r="1.75" fill="#f41c1c"/>
<circle cx="408.63" cy="130.38" r="1.75" fill="#f41c1c"/>
<circle cx="409.95" cy="130.40" r="1.75" fill="#f41c1c"/>
<circle cx="411.27" cy="130.96" r="1.75" fill="#f41c1c"/>
<circle cx="412.59" cy="130.75" r="1.75" fill="#f41c1c"/>
<circle cx="413.91" cy="130.21" r="1.75" fill="#f41c1c"/>
<circle cx="415.23" cy="130.18" r="1.75" fill="#f41c1c"/>
<circle cx="416.55" cy="130.22" r="1.75" fill="#f41c1c"/>
<circle cx="417.87" cy="130.98" r="1.75" fill="#f41c1c"/>
<circle cx="419.19" cy="130.90" r="1.75" fill="#f41c1c"/>
<circle cx="420.51" cy="130.25" r="1.75" fill="#f41c1c"/>
<circle cx="421.84" cy="130.94" r="1.75" fill="#f41c1c"/>
<circle cx="423.16" cy="131.11" r="1.75" fill="#f41c1c"/>
<circle cx="424.48" cy="130.80" r="1.75" fill="#f41c1c"/>
<circle cx="425.80" cy="130.51" r="1.75" fill="#f41c1c"/>
<circle cx="427.12" cy="130.72" r="1.75" fill="#f41c1c"/>
<circle cx="428.44" cy="130.32" r="1.75" fill="#f41c1c"/>
<circle cx="429.76" cy="130.21" r="1.75" fill="#f41c1c"/>
<circle cx="431.08" cy="131.18" r="1.75" fill="#f41c1c"/>
<circle cx="432.40" cy="130.87" r="1.75" fill="#f41c1c"/>
<circle cx="433.72" cy="130.76" r="1.75" fill="#f41c1c"/>
<circle cx="435.04" cy="131.18" r="1.75" fill="#f41c1c"/>
<circle cx="436.36" cy="130.70" r="1.75" fill="#f41c1c"/>
<circle cx="437.68" cy="131.15" r="1.75" fill="#f41c1c"/>
<circle cx="439.00" cy="131.12" r="1.75" fill="#f41c1c"/>
<circle cx="440.33" cy="130.51" r="1.75" fill="#f41c1c"/>
<circle cx="441.65" cy="130.54" r="1.75" fill="#f41c1c"/>
<circle cx="442.97" cy="130.56" r="1.75" fill="#f41c1c"/>
<circle cx="444.29" cy="130.50" r="1.75" fill="#f41c1c"/>
<circle cx="445.61" cy="130.83" r="1.75" fill="#f41c1c"/>
<circle cx="446.93" cy="130.49" r="1.75" fill="#f41c1c"/>
<circle cx="448.25" cy="130.64" r="1.75" fill="#f41c1c"/>
<circle cx="449.57" cy="130.34" r="1.75" fill="#f41c1c"/>
<circle cx="450.89" cy="131.10" r="1.75" fill="#f41c1c"/>
<circle cx="452.21" cy="130.53" r="1.75" fill="#f41c1c"/>
<circle cx="453.53" cy="130.62" r="1.75" fill="#f41c1c"/>
<circle cx="454.85" cy="130.73" r="1.75" fill="#f41c1c"/>
<circle cx="456.17" cy="131.04" r="1.75" fill="#f41c1c"/>
<circle cx="457.49" cy="130.55" r="1.75" fill="#f41c1c"/>
<circle cx="458.81" cy="131.03" r="1.75" fill="#f41c1c"/>
<circle cx="460.14" cy="130.60" r="1.75" fill="#f41c1c"/>
<circle cx="461.46" cy="130.62" r="1.75" fill="#f41c1c"/>
<circle cx="462.78" cy="130.60" r="1.75" fill="#f41c1c"/>
<circle cx="464.10" cy="130.08" r="1.75" fill="#f41c1c"/>
<circle cx="465.42" cy="130.49" r="1.75" fill="#f41c1c"/>
<circle cx="466.74" cy="130.22" r="1.75" fill="#f41c1c"/>
<circle cx="468.06" cy="130.02" r="1.75" fill="#f41c1c"/>
<circle cx="469.38" cy="130.81" r="1.75" fill="#f41c1c"/>
<circle cx="470.70" cy="130.17" r="1.75" fill="#f41c1c"/>
<circle cx="472.02" cy="130.45" r="1.75" fill="#f41c1c"/>
<circle cx="473.34" cy="130.69" r="1.75" fill="#f41c1c"/>
<circle cx="474.66" cy="130.51" r="1.75" fill="#f41c1c"/>
<circle cx="475.98" cy="130.27" r="1.75" fill="#f41c1c"/>
<circle cx="477.30" cy="130.45" r="1.75" fill="#f41c1c"/>
<circle cx="478.63" cy="130.47" r="1.75" fill="#f41c1c"/>
<circle cx="479.95" cy="130.68" r="1.75" fill="#f41c1c"/>
<circle cx="481.27" cy="129.98" r="1.75" fill="#f41c1c"/>
<circle cx="482.59" cy="130.40" r="1.75" fill="#f41c1c"/>
<circle cx="483.91" cy="130.06" r="1.75" fill="#f41c1c"/>
<circle cx="485.23" cy="130.06" r="1.75" fill="#f41c1c"/>
<circle cx="486.55" cy="130.52" r="1.75" fill="#f41c1c"/>
<circle cx="487.87" cy="130.23" r="1.75" fill="#f41c1c"/>
<circle cx="489.19" cy="130.25" r="1.75" fill="#f41c1c"/>
<circle cx="490.51" cy="130.42" r="1.75" fill="#f41c1c"/>
<circle cx="491.83" cy="130.54" r="1.75" fill="#f41c1c"/>
<circle cx="493.15" cy="130.04" r="1.75" fill="#f41c1c"/>
<circle cx="494.47" cy="130.18" r="1.75" fill="#f41c1c"/>
<circle cx="495.79" cy="130.04" r="1.75" fill="#f41c1c"/>
<circle cx="497.12" cy="130.02" r="1.75" fill="#f41c1c"/>
<circle cx="498.44" cy="130.17" r="1.75" fill="#f41c1c"/>
<circle cx="499.76" cy="129.90" r="1.75" fill="#f41c1c"/>
<circle cx="501.08" cy="129.95" r="1.75" fill="#f41c1c"/>
<circle cx="502.40" cy="129.87" r="1.75" fill="#f41c1c"/>
<circle cx="503.72" cy="130.30" r="1.75" fill="#f41c1c"/>
<circle cx="505.04" cy="130.03" r="1.75" fill="#f41c1c"/>
<circle cx="506.36" cy="130.17" r="1.75" fill="#f41c1c"/>
<circle cx="507.68" cy="130.21" r="1.75" fill="#f41c1c"/>
<circle cx="509.00" cy="129.50" r="1.75" fill="#f41c1c"/>
<circle cx="510.32" cy="129.77" r="1.75" fill="#f41c1c"/>
<circle cx="511.64" cy="130.12" r="1.75" fill="#f41c1c"/>
<circle cx="512.96" cy="129.99" r="1.75" fill="#f41c1c"/>
<circle cx="514.28" cy="129.25" r="1.75" fill="#f41c1c"/>
<circle cx="515.61" cy="129.22" r="1.75" fill="#f41c1c"/>
<polyline points="328.50,31.00 332.00,30.20 340.00,30.50 360.00,30.00 380.00,29.80 400.00,29.90 430.00,30.00 460.00,29.80 490.00,30.00 515.00,29.80" fill="none" stroke="#f41c1c" stroke-width="1.6" stroke-linejoin="round" stroke-linecap="round" />
<circle cx="328.07" cy="30.90" r="1.6" fill="#f41c1c"/>
<circle cx="329.39" cy="30.03" r="1.6" fill="#f41c1c"/>
<circle cx="330.71" cy="30.03" r="1.6" fill="#f41c1c"/>
<circle cx="332.03" cy="29.43" r="1.6" fill="#f41c1c"/>
<circle cx="333.35" cy="30.56" r="1.6" fill="#f41c1c"/>
<circle cx="334.67" cy="30.81" r="1.6" fill="#f41c1c"/>
<circle cx="335.99" cy="31.06" r="1.6" fill="#f41c1c"/>
<circle cx="337.31" cy="29.78" r="1.6" fill="#f41c1c"/>
<circle cx="338.63" cy="30.84" r="1.6" fill="#f41c1c"/>
<circle cx="339.95" cy="30.79" r="1.6" fill="#f41c1c"/>
<circle cx="341.27" cy="29.83" r="1.6" fill="#f41c1c"/>
<circle cx="342.59" cy="31.12" r="1.6" fill="#f41c1c"/>
<circle cx="343.91" cy="31.24" r="1.6" fill="#f41c1c"/>
<circle cx="345.23" cy="29.86" r="1.6" fill="#f41c1c"/>
<circle cx="346.56" cy="31.15" r="1.6" fill="#f41c1c"/>
<circle cx="347.88" cy="30.12" r="1.6" fill="#f41c1c"/>
<circle cx="349.20" cy="30.25" r="1.6" fill="#f41c1c"/>
<circle cx="350.52" cy="31.12" r="1.6" fill="#f41c1c"/>
<circle cx="351.84" cy="30.80" r="1.6" fill="#f41c1c"/>
<circle cx="353.16" cy="29.56" r="1.6" fill="#f41c1c"/>
<circle cx="354.48" cy="30.01" r="1.6" fill="#f41c1c"/>
<circle cx="355.80" cy="30.13" r="1.6" fill="#f41c1c"/>
<circle cx="357.12" cy="29.78" r="1.6" fill="#f41c1c"/>
<circle cx="358.44" cy="29.49" r="1.6" fill="#f41c1c"/>
<circle cx="359.76" cy="29.68" r="1.6" fill="#f41c1c"/>
<circle cx="361.08" cy="30.39" r="1.6" fill="#f41c1c"/>
<circle cx="362.40" cy="29.11" r="1.6" fill="#f41c1c"/>
<circle cx="363.72" cy="30.06" r="1.6" fill="#f41c1c"/>
<circle cx="365.05" cy="29.84" r="1.6" fill="#f41c1c"/>
<circle cx="366.37" cy="29.07" r="1.6" fill="#f41c1c"/>
<circle cx="367.69" cy="29.62" r="1.6" fill="#f41c1c"/>
<circle cx="369.01" cy="30.13" r="1.6" fill="#f41c1c"/>
<circle cx="370.33" cy="29.92" r="1.6" fill="#f41c1c"/>
<circle cx="371.65" cy="29.10" r="1.6" fill="#f41c1c"/>
<circle cx="372.97" cy="30.74" r="1.6" fill="#f41c1c"/>
<circle cx="374.29" cy="30.38" r="1.6" fill="#f41c1c"/>
<circle cx="375.61" cy="30.69" r="1.6" fill="#f41c1c"/>
<circle cx="376.93" cy="29.12" r="1.6" fill="#f41c1c"/>
<circle cx="378.25" cy="29.40" r="1.6" fill="#f41c1c"/>
<circle cx="379.57" cy="28.98" r="1.6" fill="#f41c1c"/>
<circle cx="380.89" cy="30.31" r="1.6" fill="#f41c1c"/>
<circle cx="382.21" cy="29.40" r="1.6" fill="#f41c1c"/>
<circle cx="383.53" cy="29.15" r="1.6" fill="#f41c1c"/>
<circle cx="384.86" cy="29.68" r="1.6" fill="#f41c1c"/>
<circle cx="386.18" cy="30.57" r="1.6" fill="#f41c1c"/>
<circle cx="387.50" cy="30.41" r="1.6" fill="#f41c1c"/>
<circle cx="388.82" cy="29.41" r="1.6" fill="#f41c1c"/>
<circle cx="390.14" cy="29.22" r="1.6" fill="#f41c1c"/>
<circle cx="391.46" cy="30.61" r="1.6" fill="#f41c1c"/>
<circle cx="392.78" cy="29.99" r="1.6" fill="#f41c1c"/>
<circle cx="394.10" cy="30.23" r="1.6" fill="#f41c1c"/>
<circle cx="395.42" cy="29.14" r="1.6" fill="#f41c1c"/>
<circle cx="396.74" cy="29.09" r="1.6" fill="#f41c1c"/>
<circle cx="398.06" cy="30.23" r="1.6" fill="#f41c1c"/>
<circle cx="399.38" cy="29.76" r="1.6" fill="#f41c1c"/>
<circle cx="400.70" cy="29.13" r="1.6" fill="#f41c1c"/>
<circle cx="402.02" cy="30.70" r="1.6" fill="#f41c1c"/>
<circle cx="403.35" cy="30.15" r="1.6" fill="#f41c1c"/>
<circle cx="404.67" cy="30.46" r="1.6" fill="#f41c1c"/>
<circle cx="405.99" cy="29.17" r="1.6" fill="#f41c1c"/>
<circle cx="407.31" cy="30.57" r="1.6" fill="#f41c1c"/>
<circle cx="408.63" cy="29.15" r="1.6" fill="#f41c1c"/>
<circle cx="409.95" cy="30.59" r="1.6" fill="#f41c1c"/>
<circle cx="411.27" cy="29.85" r="1.6" fill="#f41c1c"/>
<circle cx="412.59" cy="29.65" r="1.6" fill="#f41c1c"/>
<circle cx="413.91" cy="30.04" r="1.6" fill="#f41c1c"/>
<circle cx="415.23" cy="30.72" r="1.6" fill="#f41c1c"/>
<circle cx="416.55" cy="29.54" r="1.6" fill="#f41c1c"/>
<circle cx="417.87" cy="29.29" r="1.6" fill="#f41c1c"/>
<circle cx="419.19" cy="30.01" r="1.6" fill="#f41c1c"/>
<circle cx="420.51" cy="29.50" r="1.6" fill="#f41c1c"/>
<circle cx="421.84" cy="29.27" r="1.6" fill="#f41c1c"/>
<circle cx="423.16" cy="29.37" r="1.6" fill="#f41c1c"/>
<circle cx="424.48" cy="29.17" r="1.6" fill="#f41c1c"/>
<circle cx="425.80" cy="29.45" r="1.6" fill="#f41c1c"/>
<circle cx="427.12" cy="29.65" r="1.6" fill="#f41c1c"/>
<circle cx="428.44" cy="29.64" r="1.6" fill="#f41c1c"/>
<circle cx="429.76" cy="30.47" r="1.6" fill="#f41c1c"/>
<circle cx="431.08" cy="29.61" r="1.6" fill="#f41c1c"/>
<circle cx="432.40" cy="29.98" r="1.6" fill="#f41c1c"/>
<circle cx="433.72" cy="29.40" r="1.6" fill="#f41c1c"/>
<circle cx="435.04" cy="29.69" r="1.6" fill="#f41c1c"/>
<circle cx="436.36" cy="29.09" r="1.6" fill="#f41c1c"/>
<circle cx="437.68" cy="29.50" r="1.6" fill="#f41c1c"/>
<circle cx="439.00" cy="29.07" r="1.6" fill="#f41c1c"/>
<circle cx="440.33" cy="30.35" r="1.6" fill="#f41c1c"/>
<circle cx="441.65" cy="30.01" r="1.6" fill="#f41c1c"/>
<circle cx="442.97" cy="29.35" r="1.6" fill="#f41c1c"/>
<circle cx="444.29" cy="29.86" r="1.6" fill="#f41c1c"/>
<circle cx="445.61" cy="30.68" r="1.6" fill="#f41c1c"/>
<circle cx="446.93" cy="29.18" r="1.6" fill="#f41c1c"/>
<circle cx="448.25" cy="30.45" r="1.6" fill="#f41c1c"/>
<circle cx="449.57" cy="29.75" r="1.6" fill="#f41c1c"/>
<circle cx="450.89" cy="29.85" r="1.6" fill="#f41c1c"/>
<circle cx="452.21" cy="30.45" r="1.6" fill="#f41c1c"/>
<circle cx="453.53" cy="29.65" r="1.6" fill="#f41c1c"/>
<circle cx="454.85" cy="29.85" r="1.6" fill="#f41c1c"/>
<circle cx="456.17" cy="30.16" r="1.6" fill="#f41c1c"/>
<circle cx="457.49" cy="30.69" r="1.6" fill="#f41c1c"/>
<circle cx="458.81" cy="29.52" r="1.6" fill="#f41c1c"/>
<circle cx="460.14" cy="30.40" r="1.6" fill="#f41c1c"/>
<circle cx="461.46" cy="30.18" r="1.6" fill="#f41c1c"/>
<circle cx="462.78" cy="30.06" r="1.6" fill="#f41c1c"/>
<circle cx="464.10" cy="29.66" r="1.6" fill="#f41c1c"/>
<circle cx="465.42" cy="29.56" r="1.6" fill="#f41c1c"/>
<circle cx="466.74" cy="29.04" r="1.6" fill="#f41c1c"/>
<circle cx="468.06" cy="29.19" r="1.6" fill="#f41c1c"/>
<circle cx="469.38" cy="29.09" r="1.6" fill="#f41c1c"/>
<circle cx="470.70" cy="30.30" r="1.6" fill="#f41c1c"/>
<circle cx="472.02" cy="29.44" r="1.6" fill="#f41c1c"/>
<circle cx="473.34" cy="29.28" r="1.6" fill="#f41c1c"/>
<circle cx="474.66" cy="29.15" r="1.6" fill="#f41c1c"/>
<circle cx="475.98" cy="30.52" r="1.6" fill="#f41c1c"/>
<circle cx="477.30" cy="30.58" r="1.6" fill="#f41c1c"/>
<circle cx="478.63" cy="30.23" r="1.6" fill="#f41c1c"/>
<circle cx="479.95" cy="29.54" r="1.6" fill="#f41c1c"/>
<circle cx="481.27" cy="29.48" r="1.6" fill="#f41c1c"/>
<circle cx="482.59" cy="29.58" r="1.6" fill="#f41c1c"/>
<circle cx="483.91" cy="29.89" r="1.6" fill="#f41c1c"/>
<circle cx="485.23" cy="29.35" r="1.6" fill="#f41c1c"/>
<circle cx="486.55" cy="29.88" r="1.6" fill="#f41c1c"/>
<circle cx="487.87" cy="29.56" r="1.6" fill="#f41c1c"/>
<circle cx="489.19" cy="30.83" r="1.6" fill="#f41c1c"/>
<circle cx="490.51" cy="30.85" r="1.6" fill="#f41c1c"/>
<circle cx="491.83" cy="30.07" r="1.6" fill="#f41c1c"/>
<circle cx="493.15" cy="29.51" r="1.6" fill="#f41c1c"/>
<circle cx="494.47" cy="30.80" r="1.6" fill="#f41c1c"/>
<circle cx="495.79" cy="29.61" r="1.6" fill="#f41c1c"/>
<circle cx="497.12" cy="29.68" r="1.6" fill="#f41c1c"/>
<circle cx="498.44" cy="29.03" r="1.6" fill="#f41c1c"/>
<circle cx="499.76" cy="29.71" r="1.6" fill="#f41c1c"/>
<circle cx="501.08" cy="29.87" r="1.6" fill="#f41c1c"/>
<circle cx="502.40" cy="29.91" r="1.6" fill="#f41c1c"/>
<circle cx="503.72" cy="29.35" r="1.6" fill="#f41c1c"/>
<circle cx="505.04" cy="29.89" r="1.6" fill="#f41c1c"/>
<circle cx="506.36" cy="28.98" r="1.6" fill="#f41c1c"/>
<circle cx="507.68" cy="29.43" r="1.6" fill="#f41c1c"/>
<circle cx="509.00" cy="29.11" r="1.6" fill="#f41c1c"/>
<circle cx="510.32" cy="29.66" r="1.6" fill="#f41c1c"/>
<circle cx="511.64" cy="29.00" r="1.6" fill="#f41c1c"/>
<circle cx="512.96" cy="28.96" r="1.6" fill="#f41c1c"/>
<circle cx="514.28" cy="29.45" r="1.6" fill="#f41c1c"/>
<circle cx="515.61" cy="29.32" r="1.6" fill="#f41c1c"/>
<polyline points="328.00,96.80 330.00,97.20 334.00,96.50 340.00,95.60 363.00,94.60 380.00,94.80 400.00,95.40 430.00,95.60 452.00,95.80 465.00,97.40 487.00,99.30 515.00,99.60" fill="none" stroke="#0a0a0a" stroke-width="1.6" stroke-linejoin="round" stroke-linecap="round" />
<rect x="325.39" y="93.93" width="2.7" height="2.7" fill="#0a0a0a"/>
<rect x="326.72" y="95.49" width="2.7" height="2.7" fill="#0a0a0a"/>
<rect x="328.04" y="95.98" width="2.7" height="2.7" fill="#0a0a0a"/>
<rect x="329.36" y="95.88" width="2.7" height="2.7" fill="#0a0a0a"/>
<rect x="330.68" y="95.71" width="2.7" height="2.7" fill="#0a0a0a"/>
<rect x="332.00" y="95.64" width="2.7" height="2.7" fill="#0a0a0a"/>
<rect x="333.32" y="94.94" width="2.7" height="2.7" fill="#0a0a0a"/>
<rect x="334.64" y="94.68" width="2.7" height="2.7" fill="#0a0a0a"/>
<rect x="335.96" y="95.14" width="2.7" height="2.7" fill="#0a0a0a"/>
<rect x="337.28" y="94.10" width="2.7" height="2.7" fill="#0a0a0a"/>
<rect x="338.60" y="94.48" width="2.7" height="2.7" fill="#0a0a0a"/>
<rect x="339.92" y="94.34" width="2.7" height="2.7" fill="#0a0a0a"/>
<rect x="341.24" y="93.68" width="2.7" height="2.7" fill="#0a0a0a"/>
<rect x="342.56" y="94.42" width="2.7" height="2.7" fill="#0a0a0a"/>
<rect x="343.88" y="94.41" width="2.7" height="2.7" fill="#0a0a0a"/>
<rect x="345.21" y="94.09" width="2.7" height="2.7" fill="#0a0a0a"/>
<rect x="346.53" y="94.14" width="2.7" height="2.7" fill="#0a0a0a"/>
<rect x="347.85" y="94.16" width="2.7" height="2.7" fill="#0a0a0a"/>
<rect x="349.17" y="93.43" width="2.7" height="2.7" fill="#0a0a0a"/>
<rect x="350.49" y="93.76" width="2.7" height="2.7" fill="#0a0a0a"/>
<rect x="351.81" y="93.68" width="2.7" height="2.7" fill="#0a0a0a"/>
<rect x="353.13" y="93.96" width="2.7" height="2.7" fill="#0a0a0a"/>
<rect x="354.45" y="93.87" width="2.7" height="2.7" fill="#0a0a0a"/>
<rect x="355.77" y="93.83" width="2.7" height="2.7" fill="#0a0a0a"/>
<rect x="357.09" y="93.53" width="2.7" height="2.7" fill="#0a0a0a"/>
<rect x="358.41" y="93.78" width="2.7" height="2.7" fill="#0a0a0a"/>
<rect x="359.73" y="93.52" width="2.7" height="2.7" fill="#0a0a0a"/>
<rect x="361.05" y="93.47" width="2.7" height="2.7" fill="#0a0a0a"/>
<rect x="362.37" y="92.99" width="2.7" height="2.7" fill="#0a0a0a"/>
<rect x="363.70" y="92.81" width="2.7" height="2.7" fill="#0a0a0a"/>
<rect x="365.02" y="92.92" width="2.7" height="2.7" fill="#0a0a0a"/>
<rect x="366.34" y="93.17" width="2.7" height="2.7" fill="#0a0a0a"/>
<rect x="367.66" y="92.93" width="2.7" height="2.7" fill="#0a0a0a"/>
<rect x="368.98" y="93.67" width="2.7" height="2.7" fill="#0a0a0a"/>
<rect x="370.30" y="93.41" width="2.7" height="2.7" fill="#0a0a0a"/>
<rect x="371.62" y="93.50" width="2.7" height="2.7" fill="#0a0a0a"/>
<rect x="372.94" y="93.51" width="2.7" height="2.7" fill="#0a0a0a"/>
<rect x="374.26" y="93.58" width="2.7" height="2.7" fill="#0a0a0a"/>
<rect x="375.58" y="93.40" width="2.7" height="2.7" fill="#0a0a0a"/>
<rect x="376.90" y="92.93" width="2.7" height="2.7" fill="#0a0a0a"/>
<rect x="378.22" y="93.74" width="2.7" height="2.7" fill="#0a0a0a"/>
<rect x="379.54" y="93.73" width="2.7" height="2.7" fill="#0a0a0a"/>
<rect x="380.86" y="93.52" width="2.7" height="2.7" fill="#0a0a0a"/>
<rect x="382.18" y="93.59" width="2.7" height="2.7" fill="#0a0a0a"/>
<rect x="383.51" y="93.75" width="2.7" height="2.7" fill="#0a0a0a"/>
<rect x="384.83" y="93.20" width="2.7" height="2.7" fill="#0a0a0a"/>
<rect x="386.15" y="93.91" width="2.7" height="2.7" fill="#0a0a0a"/>
<rect x="387.47" y="93.47" width="2.7" height="2.7" fill="#0a0a0a"/>
<rect x="388.79" y="93.33" width="2.7" height="2.7" fill="#0a0a0a"/>
<rect x="390.11" y="93.56" width="2.7" height="2.7" fill="#0a0a0a"/>
<rect x="391.43" y="94.06" width="2.7" height="2.7" fill="#0a0a0a"/>
<rect x="392.75" y="93.58" width="2.7" height="2.7" fill="#0a0a0a"/>
<rect x="394.07" y="94.15" width="2.7" height="2.7" fill="#0a0a0a"/>
<rect x="395.39" y="94.43" width="2.7" height="2.7" fill="#0a0a0a"/>
<rect x="396.71" y="93.99" width="2.7" height="2.7" fill="#0a0a0a"/>
<rect x="398.03" y="93.91" width="2.7" height="2.7" fill="#0a0a0a"/>
<rect x="399.35" y="94.03" width="2.7" height="2.7" fill="#0a0a0a"/>
<rect x="400.67" y="94.25" width="2.7" height="2.7" fill="#0a0a0a"/>
<rect x="402.00" y="94.34" width="2.7" height="2.7" fill="#0a0a0a"/>
<rect x="403.32" y="94.20" width="2.7" height="2.7" fill="#0a0a0a"/>
<rect x="404.64" y="94.23" width="2.7" height="2.7" fill="#0a0a0a"/>
<rect x="405.96" y="93.68" width="2.7" height="2.7" fill="#0a0a0a"/>
<rect x="407.28" y="93.75" width="2.7" height="2.7" fill="#0a0a0a"/>
<rect x="408.60" y="93.87" width="2.7" height="2.7" fill="#0a0a0a"/>
<rect x="409.92" y="94.37" width="2.7" height="2.7" fill="#0a0a0a"/>
<rect x="411.24" y="93.94" width="2.7" height="2.7" fill="#0a0a0a"/>
<rect x="412.56" y="94.21" width="2.7" height="2.7" fill="#0a0a0a"/>
<rect x="413.88" y="93.66" width="2.7" height="2.7" fill="#0a0a0a"/>
<rect x="415.20" y="93.72" width="2.7" height="2.7" fill="#0a0a0a"/>
<rect x="416.52" y="93.94" width="2.7" height="2.7" fill="#0a0a0a"/>
<rect x="417.84" y="94.35" width="2.7" height="2.7" fill="#0a0a0a"/>
<rect x="419.16" y="94.38" width="2.7" height="2.7" fill="#0a0a0a"/>
<rect x="420.49" y="94.37" width="2.7" height="2.7" fill="#0a0a0a"/>
<rect x="421.81" y="94.00" width="2.7" height="2.7" fill="#0a0a0a"/>
<rect x="423.13" y="94.23" width="2.7" height="2.7" fill="#0a0a0a"/>
<rect x="424.45" y="94.19" width="2.7" height="2.7" fill="#0a0a0a"/>
<rect x="425.77" y="94.20" width="2.7" height="2.7" fill="#0a0a0a"/>
<rect x="427.09" y="93.86" width="2.7" height="2.7" fill="#0a0a0a"/>
<rect x="428.41" y="94.64" width="2.7" height="2.7" fill="#0a0a0a"/>
<rect x="429.73" y="93.96" width="2.7" height="2.7" fill="#0a0a0a"/>
<rect x="431.05" y="94.75" width="2.7" height="2.7" fill="#0a0a0a"/>
<rect x="432.37" y="94.72" width="2.7" height="2.7" fill="#0a0a0a"/>
<rect x="433.69" y="93.81" width="2.7" height="2.7" fill="#0a0a0a"/>
<rect x="435.01" y="94.27" width="2.7" height="2.7" fill="#0a0a0a"/>
<rect x="436.33" y="94.64" width="2.7" height="2.7" fill="#0a0a0a"/>
<rect x="437.65" y="94.80" width="2.7" height="2.7" fill="#0a0a0a"/>
<rect x="438.98" y="94.29" width="2.7" height="2.7" fill="#0a0a0a"/>
<rect x="440.30" y="94.12" width="2.7" height="2.7" fill="#0a0a0a"/>
<rect x="441.62" y="94.08" width="2.7" height="2.7" fill="#0a0a0a"/>
<rect x="442.94" y="94.83" width="2.7" height="2.7" fill="#0a0a0a"/>
<rect x="444.26" y="94.10" width="2.7" height="2.7" fill="#0a0a0a"/>
<rect x="445.58" y="94.49" width="2.7" height="2.7" fill="#0a0a0a"/>
<rect x="446.90" y="94.06" width="2.7" height="2.7" fill="#0a0a0a"/>
<rect x="448.22" y="94.45" width="2.7" height="2.7" fill="#0a0a0a"/>
<rect x="449.54" y="94.89" width="2.7" height="2.7" fill="#0a0a0a"/>
<rect x="450.86" y="94.11" width="2.7" height="2.7" fill="#0a0a0a"/>
<rect x="452.18" y="94.96" width="2.7" height="2.7" fill="#0a0a0a"/>
<rect x="453.50" y="94.81" width="2.7" height="2.7" fill="#0a0a0a"/>
<rect x="454.82" y="95.35" width="2.7" height="2.7" fill="#0a0a0a"/>
<rect x="456.14" y="95.33" width="2.7" height="2.7" fill="#0a0a0a"/>
<rect x="457.46" y="95.02" width="2.7" height="2.7" fill="#0a0a0a"/>
<rect x="458.79" y="95.85" width="2.7" height="2.7" fill="#0a0a0a"/>
<rect x="460.11" y="95.60" width="2.7" height="2.7" fill="#0a0a0a"/>
<rect x="461.43" y="95.30" width="2.7" height="2.7" fill="#0a0a0a"/>
<rect x="462.75" y="95.44" width="2.7" height="2.7" fill="#0a0a0a"/>
<rect x="464.07" y="96.08" width="2.7" height="2.7" fill="#0a0a0a"/>
<rect x="465.39" y="96.15" width="2.7" height="2.7" fill="#0a0a0a"/>
<rect x="466.71" y="96.12" width="2.7" height="2.7" fill="#0a0a0a"/>
<rect x="468.03" y="96.07" width="2.7" height="2.7" fill="#0a0a0a"/>
<rect x="469.35" y="96.39" width="2.7" height="2.7" fill="#0a0a0a"/>
<rect x="470.67" y="96.47" width="2.7" height="2.7" fill="#0a0a0a"/>
<rect x="471.99" y="97.11" width="2.7" height="2.7" fill="#0a0a0a"/>
<rect x="473.31" y="96.39" width="2.7" height="2.7" fill="#0a0a0a"/>
<rect x="474.63" y="97.25" width="2.7" height="2.7" fill="#0a0a0a"/>
<rect x="475.95" y="97.45" width="2.7" height="2.7" fill="#0a0a0a"/>
<rect x="477.28" y="96.85" width="2.7" height="2.7" fill="#0a0a0a"/>
<rect x="478.60" y="97.77" width="2.7" height="2.7" fill="#0a0a0a"/>
<rect x="479.92" y="97.67" width="2.7" height="2.7" fill="#0a0a0a"/>
<rect x="481.24" y="97.97" width="2.7" height="2.7" fill="#0a0a0a"/>
<rect x="482.56" y="97.47" width="2.7" height="2.7" fill="#0a0a0a"/>
<rect x="483.88" y="97.67" width="2.7" height="2.7" fill="#0a0a0a"/>
<rect x="485.20" y="97.80" width="2.7" height="2.7" fill="#0a0a0a"/>
<rect x="486.52" y="98.46" width="2.7" height="2.7" fill="#0a0a0a"/>
<rect x="487.84" y="98.06" width="2.7" height="2.7" fill="#0a0a0a"/>
<rect x="489.16" y="97.85" width="2.7" height="2.7" fill="#0a0a0a"/>
<rect x="490.48" y="97.93" width="2.7" height="2.7" fill="#0a0a0a"/>
<rect x="491.80" y="97.79" width="2.7" height="2.7" fill="#0a0a0a"/>
<rect x="493.12" y="97.58" width="2.7" height="2.7" fill="#0a0a0a"/>
<rect x="494.44" y="97.65" width="2.7" height="2.7" fill="#0a0a0a"/>
<rect x="495.77" y="98.39" width="2.7" height="2.7" fill="#0a0a0a"/>
<rect x="497.09" y="97.86" width="2.7" height="2.7" fill="#0a0a0a"/>
<rect x="498.41" y="98.52" width="2.7" height="2.7" fill="#0a0a0a"/>
<rect x="499.73" y="97.85" width="2.7" height="2.7" fill="#0a0a0a"/>
<rect x="501.05" y="97.88" width="2.7" height="2.7" fill="#0a0a0a"/>
<rect x="502.37" y="98.14" width="2.7" height="2.7" fill="#0a0a0a"/>
<rect x="503.69" y="97.83" width="2.7" height="2.7" fill="#0a0a0a"/>
<rect x="505.01" y="98.03" width="2.7" height="2.7" fill="#0a0a0a"/>
<rect x="506.33" y="98.63" width="2.7" height="2.7" fill="#0a0a0a"/>
<rect x="507.65" y="98.57" width="2.7" height="2.7" fill="#0a0a0a"/>
<rect x="508.97" y="98.51" width="2.7" height="2.7" fill="#0a0a0a"/>
<rect x="510.29" y="98.34" width="2.7" height="2.7" fill="#0a0a0a"/>
<rect x="511.61" y="98.64" width="2.7" height="2.7" fill="#0a0a0a"/>
<rect x="512.93" y="98.68" width="2.7" height="2.7" fill="#0a0a0a"/>
<rect x="514.25" y="98.30" width="2.7" height="2.7" fill="#0a0a0a"/>
<circle cx="319.80" cy="68.50" r="1.8" fill="#f41c1c"/>
<circle cx="320.40" cy="82.10" r="1.8" fill="#f41c1c"/>
<circle cx="321.60" cy="89.70" r="1.8" fill="#f41c1c"/>
<circle cx="322.60" cy="100.00" r="1.8" fill="#f41c1c"/>
<circle cx="323.80" cy="102.60" r="1.8" fill="#f41c1c"/>
<circle cx="326.10" cy="106.40" r="1.8" fill="#f41c1c"/>
<circle cx="318.80" cy="47.30" r="1.8" fill="#f41c1c"/>
<circle cx="320.40" cy="47.30" r="1.8" fill="#f41c1c"/>
<circle cx="322.30" cy="48.80" r="1.8" fill="#f41c1c"/>
<circle cx="323.50" cy="40.00" r="1.8" fill="#f41c1c"/>
<circle cx="325.40" cy="35.20" r="1.8" fill="#f41c1c"/>
<circle cx="326.90" cy="37.40" r="1.8" fill="#f41c1c"/>
<circle cx="328.50" cy="31.00" r="1.8" fill="#f41c1c"/>
<rect x="317.30" y="49.00" width="3.0" height="3.0" fill="#0a0a0a"/>
<rect x="318.90" y="72.30" width="3.0" height="3.0" fill="#0a0a0a"/>
<rect x="319.80" y="80.60" width="3.0" height="3.0" fill="#0a0a0a"/>
<rect x="321.20" y="85.00" width="3.0" height="3.0" fill="#0a0a0a"/>
<rect x="323.10" y="88.50" width="3.0" height="3.0" fill="#0a0a0a"/>
<rect x="324.70" y="93.00" width="3.0" height="3.0" fill="#0a0a0a"/>
<rect x="317.80" y="50.30" width="3.0" height="3.0" fill="#0a0a0a"/>
<rect x="320.10" y="39.00" width="3.0" height="3.0" fill="#0a0a0a"/>
<rect x="321.10" y="31.40" width="3.0" height="3.0" fill="#0a0a0a"/>
<rect x="322.30" y="25.70" width="3.0" height="3.0" fill="#0a0a0a"/>
<rect x="324.50" y="24.70" width="3.0" height="3.0" fill="#0a0a0a"/>
<line x1="319.50" y1="55.50" x2="331.57" y2="66.09" stroke="#222" stroke-width="0.7" />
<polygon points="334.20,68.40 330.51,67.29 332.62,64.89" fill="#222"/>
<line x1="325.20" y1="88.80" x2="334.48" y2="73.59" stroke="#222" stroke-width="0.7" />
<polygon points="336.30,70.60 335.84,74.42 333.11,72.76" fill="#222"/>
<text x="337.00" y="70.50" font-size="8.6" text-anchor="start" font-weight="bold" fill="#000" stroke="#000" stroke-width="0.25" >0.05C activation</text>
<text x="379.50" y="89.40" font-size="8.4" text-anchor="start" font-weight="bold" fill="#000" stroke="#000" stroke-width="0.25" >0.1C</text>
<text x="405.50" y="89.40" font-size="8.7" text-anchor="start" font-weight="bold" fill="#000" stroke="#000" stroke-width="0.25" >4.0 mg cm<tspan dy="-3.2" font-size="5.5">-2</tspan></text>
<path d="M410.2,36.5 L410.2,48.9 L417.5,48.9" fill="none" stroke="#222" stroke-width="1.1" stroke-linejoin="round" stroke-linecap="round" stroke-linecap="butt"/>
<polygon points="420.2,48.9 416.8,47.2 416.8,50.6" fill="#222"/>
<path d="M334.5,121.5 L334.5,133.5 L327.5,133.5" fill="none" stroke="#222" stroke-width="1.1" stroke-linejoin="round" stroke-linecap="round" stroke-linecap="butt"/>
<polygon points="324.8,133.5 328.2,131.8 328.2,135.2" fill="#222"/>
<line x1="423.60" y1="55.00" x2="441.80" y2="55.00" stroke="#888" stroke-width="0.8" />
<rect x="431.20" y="53.50" width="3.0" height="3.0" fill="#0a0a0a"/>
<line x1="423.60" y1="69.00" x2="441.80" y2="69.00" stroke="#f8a0a0" stroke-width="0.9" />
<circle cx="432.70" cy="69.00" r="1.9" fill="#f41c1c"/>
<text x="445.50" y="59.20" font-size="9.0" text-anchor="start" font-weight="bold" fill="#000" stroke="#000" stroke-width="0.25" >HPCs/S@MnO<tspan dy="2.2" font-size="5.6">2</tspan></text>
<text x="445.50" y="72.60" font-size="9.0" text-anchor="start" font-weight="bold" fill="#000" stroke="#000" stroke-width="0.25" >HPCs/S</text>
<rect x="54.90" y="204.60" width="206.30" height="154.30" fill="none" stroke="#4a4a4a" stroke-width="1.1"/>
<line x1="56.50" y1="358.90" x2="56.50" y2="355.90" stroke="#4a4a4a" stroke-width="1.1" />
<line x1="76.86" y1="358.90" x2="76.86" y2="355.90" stroke="#4a4a4a" stroke-width="1.1" />
<line x1="97.22" y1="358.90" x2="97.22" y2="355.90" stroke="#4a4a4a" stroke-width="1.1" />
<line x1="117.58" y1="358.90" x2="117.58" y2="355.90" stroke="#4a4a4a" stroke-width="1.1" />
<line x1="137.94" y1="358.90" x2="137.94" y2="355.90" stroke="#4a4a4a" stroke-width="1.1" />
<line x1="158.30" y1="358.90" x2="158.30" y2="355.90" stroke="#4a4a4a" stroke-width="1.1" />
<line x1="178.66" y1="358.90" x2="178.66" y2="355.90" stroke="#4a4a4a" stroke-width="1.1" />
<line x1="199.02" y1="358.90" x2="199.02" y2="355.90" stroke="#4a4a4a" stroke-width="1.1" />
<line x1="219.38" y1="358.90" x2="219.38" y2="355.90" stroke="#4a4a4a" stroke-width="1.1" />
<line x1="239.74" y1="358.90" x2="239.74" y2="355.90" stroke="#4a4a4a" stroke-width="1.1" />
<line x1="260.10" y1="358.90" x2="260.10" y2="355.90" stroke="#4a4a4a" stroke-width="1.1" />
<line x1="66.68" y1="358.90" x2="66.68" y2="357.10" stroke="#4a4a4a" stroke-width="1.1" />
<line x1="87.04" y1="358.90" x2="87.04" y2="357.10" stroke="#4a4a4a" stroke-width="1.1" />
<line x1="107.40" y1="358.90" x2="107.40" y2="357.10" stroke="#4a4a4a" stroke-width="1.1" />
<line x1="127.76" y1="358.90" x2="127.76" y2="357.10" stroke="#4a4a4a" stroke-width="1.1" />
<line x1="148.12" y1="358.90" x2="148.12" y2="357.10" stroke="#4a4a4a" stroke-width="1.1" />
<line x1="168.48" y1="358.90" x2="168.48" y2="357.10" stroke="#4a4a4a" stroke-width="1.1" />
<line x1="188.84" y1="358.90" x2="188.84" y2="357.10" stroke="#4a4a4a" stroke-width="1.1" />
<line x1="209.20" y1="358.90" x2="209.20" y2="357.10" stroke="#4a4a4a" stroke-width="1.1" />
<line x1="229.56" y1="358.90" x2="229.56" y2="357.10" stroke="#4a4a4a" stroke-width="1.1" />
<line x1="249.92" y1="358.90" x2="249.92" y2="357.10" stroke="#4a4a4a" stroke-width="1.1" />
<line x1="54.90" y1="358.90" x2="57.90" y2="358.90" stroke="#4a4a4a" stroke-width="1.1" />
<line x1="54.90" y1="333.16" x2="57.90" y2="333.16" stroke="#4a4a4a" stroke-width="1.1" />
<line x1="54.90" y1="307.42" x2="57.90" y2="307.42" stroke="#4a4a4a" stroke-width="1.1" />
<line x1="54.90" y1="281.68" x2="57.90" y2="281.68" stroke="#4a4a4a" stroke-width="1.1" />
<line x1="54.90" y1="255.94" x2="57.90" y2="255.94" stroke="#4a4a4a" stroke-width="1.1" />
<line x1="54.90" y1="230.20" x2="57.90" y2="230.20" stroke="#4a4a4a" stroke-width="1.1" />
<line x1="54.90" y1="204.46" x2="57.90" y2="204.46" stroke="#4a4a4a" stroke-width="1.1" />
<line x1="54.90" y1="346.03" x2="56.70" y2="346.03" stroke="#4a4a4a" stroke-width="1.1" />
<line x1="54.90" y1="320.29" x2="56.70" y2="320.29" stroke="#4a4a4a" stroke-width="1.1" />
<line x1="54.90" y1="294.55" x2="56.70" y2="294.55" stroke="#4a4a4a" stroke-width="1.1" />
<line x1="54.90" y1="268.81" x2="56.70" y2="268.81" stroke="#4a4a4a" stroke-width="1.1" />
<line x1="54.90" y1="243.07" x2="56.70" y2="243.07" stroke="#4a4a4a" stroke-width="1.1" />
<line x1="54.90" y1="217.33" x2="56.70" y2="217.33" stroke="#4a4a4a" stroke-width="1.1" />
<text x="56.50" y="369.00" font-size="8.5" text-anchor="middle" font-weight="bold" fill="#000" stroke="#000" stroke-width="0.25" >0</text>
<text x="76.86" y="369.00" font-size="8.5" text-anchor="middle" font-weight="bold" fill="#000" stroke="#000" stroke-width="0.25" >20</text>
<text x="97.22" y="369.00" font-size="8.5" text-anchor="middle" font-weight="bold" fill="#000" stroke="#000" stroke-width="0.25" >40</text>
<text x="117.58" y="369.00" font-size="8.5" text-anchor="middle" font-weight="bold" fill="#000" stroke="#000" stroke-width="0.25" >60</text>
<text x="137.94" y="369.00" font-size="8.5" text-anchor="middle" font-weight="bold" fill="#000" stroke="#000" stroke-width="0.25" >80</text>
<text x="158.30" y="369.00" font-size="8.5" text-anchor="middle" font-weight="bold" fill="#000" stroke="#000" stroke-width="0.25" >100</text>
<text x="178.66" y="369.00" font-size="8.5" text-anchor="middle" font-weight="bold" fill="#000" stroke="#000" stroke-width="0.25" >120</text>
<text x="199.02" y="369.00" font-size="8.5" text-anchor="middle" font-weight="bold" fill="#000" stroke="#000" stroke-width="0.25" >140</text>
<text x="219.38" y="369.00" font-size="8.5" text-anchor="middle" font-weight="bold" fill="#000" stroke="#000" stroke-width="0.25" >160</text>
<text x="239.74" y="369.00" font-size="8.5" text-anchor="middle" font-weight="bold" fill="#000" stroke="#000" stroke-width="0.25" >180</text>
<text x="260.10" y="369.00" font-size="8.5" text-anchor="middle" font-weight="bold" fill="#000" stroke="#000" stroke-width="0.25" >200</text>
<text x="50.70" y="361.80" font-size="8.5" text-anchor="end" font-weight="bold" fill="#000" stroke="#000" stroke-width="0.25" >0</text>
<text x="50.70" y="336.06" font-size="8.5" text-anchor="end" font-weight="bold" fill="#000" stroke="#000" stroke-width="0.25" >200</text>
<text x="50.70" y="310.32" font-size="8.5" text-anchor="end" font-weight="bold" fill="#000" stroke="#000" stroke-width="0.25" >400</text>
<text x="50.70" y="284.58" font-size="8.5" text-anchor="end" font-weight="bold" fill="#000" stroke="#000" stroke-width="0.25" >600</text>
<text x="50.70" y="258.84" font-size="8.5" text-anchor="end" font-weight="bold" fill="#000" stroke="#000" stroke-width="0.25" >800</text>
<text x="50.70" y="233.10" font-size="8.5" text-anchor="end" font-weight="bold" fill="#000" stroke="#000" stroke-width="0.25" >1000</text>
<text x="50.70" y="207.36" font-size="8.5" text-anchor="end" font-weight="bold" fill="#000" stroke="#000" stroke-width="0.25" >1200</text>
<text x="161.50" y="383.30" font-size="9.7" text-anchor="middle" font-weight="bold" fill="#000" stroke="#000" stroke-width="0.25" >Cycle number</text>
<text transform="translate(27.4,276.0) rotate(-90)" font-size="9.7" text-anchor="middle" font-weight="bold" fill="#000" stroke="#000" stroke-width="0.25">Specific Capacity (mAh/g)</text>
<polyline points="66.10,309.90 70.00,310.30 80.00,310.60 100.00,312.20 130.00,314.40 154.00,316.20 178.00,318.00 202.00,319.60 230.00,320.60 260.50,321.60" fill="none" stroke="#f41c1c" stroke-width="2.0" stroke-linejoin="round" stroke-linecap="round" />
<circle cx="66.68" cy="310.18" r="1.75" fill="#f41c1c"/>
<circle cx="67.70" cy="309.61" r="1.75" fill="#f41c1c"/>
<circle cx="68.72" cy="310.40" r="1.75" fill="#f41c1c"/>
<circle cx="69.73" cy="310.22" r="1.75" fill="#f41c1c"/>
<circle cx="70.75" cy="310.58" r="1.75" fill="#f41c1c"/>
<circle cx="71.77" cy="310.50" r="1.75" fill="#f41c1c"/>
<circle cx="72.79" cy="310.17" r="1.75" fill="#f41c1c"/>
<circle cx="73.81" cy="309.96" r="1.75" fill="#f41c1c"/>
<circle cx="74.82" cy="310.87" r="1.75" fill="#f41c1c"/>
<circle cx="75.84" cy="310.10" r="1.75" fill="#f41c1c"/>
<circle cx="76.86" cy="310.48" r="1.75" fill="#f41c1c"/>
<circle cx="77.88" cy="310.38" r="1.75" fill="#f41c1c"/>
<circle cx="78.90" cy="310.36" r="1.75" fill="#f41c1c"/>
<circle cx="79.91" cy="310.84" r="1.75" fill="#f41c1c"/>
<circle cx="80.93" cy="311.15" r="1.75" fill="#f41c1c"/>
<circle cx="81.95" cy="310.52" r="1.75" fill="#f41c1c"/>
<circle cx="82.97" cy="310.99" r="1.75" fill="#f41c1c"/>
<circle cx="83.99" cy="310.72" r="1.75" fill="#f41c1c"/>
<circle cx="85.00" cy="311.06" r="1.75" fill="#f41c1c"/>
<circle cx="86.02" cy="310.98" r="1.75" fill="#f41c1c"/>
<circle cx="87.04" cy="310.83" r="1.75" fill="#f41c1c"/>
<circle cx="88.06" cy="310.91" r="1.75" fill="#f41c1c"/>
<circle cx="89.08" cy="311.03" r="1.75" fill="#f41c1c"/>
<circle cx="90.09" cy="311.81" r="1.75" fill="#f41c1c"/>
<circle cx="91.11" cy="311.49" r="1.75" fill="#f41c1c"/>
<circle cx="92.13" cy="311.29" r="1.75" fill="#f41c1c"/>
<circle cx="93.15" cy="312.06" r="1.75" fill="#f41c1c"/>
<circle cx="94.17" cy="312.23" r="1.75" fill="#f41c1c"/>
<circle cx="95.18" cy="311.76" r="1.75" fill="#f41c1c"/>
<circle cx="96.20" cy="311.54" r="1.75" fill="#f41c1c"/>
<circle cx="97.22" cy="311.67" r="1.75" fill="#f41c1c"/>
<circle cx="98.24" cy="311.65" r="1.75" fill="#f41c1c"/>
<circle cx="99.26" cy="311.98" r="1.75" fill="#f41c1c"/>
<circle cx="100.27" cy="311.81" r="1.75" fill="#f41c1c"/>
<circle cx="101.29" cy="312.03" r="1.75" fill="#f41c1c"/>
<circle cx="102.31" cy="312.13" r="1.75" fill="#f41c1c"/>
<circle cx="103.33" cy="312.51" r="1.75" fill="#f41c1c"/>
<circle cx="104.35" cy="312.91" r="1.75" fill="#f41c1c"/>
<circle cx="105.36" cy="312.84" r="1.75" fill="#f41c1c"/>
<circle cx="106.38" cy="312.58" r="1.75" fill="#f41c1c"/>
<circle cx="107.40" cy="312.66" r="1.75" fill="#f41c1c"/>
<circle cx="108.42" cy="312.84" r="1.75" fill="#f41c1c"/>
<circle cx="109.44" cy="312.77" r="1.75" fill="#f41c1c"/>
<circle cx="110.45" cy="312.80" r="1.75" fill="#f41c1c"/>
<circle cx="111.47" cy="312.60" r="1.75" fill="#f41c1c"/>
<circle cx="112.49" cy="312.89" r="1.75" fill="#f41c1c"/>
<circle cx="113.51" cy="313.66" r="1.75" fill="#f41c1c"/>
<circle cx="114.53" cy="312.89" r="1.75" fill="#f41c1c"/>
<circle cx="115.54" cy="313.34" r="1.75" fill="#f41c1c"/>
<circle cx="116.56" cy="313.54" r="1.75" fill="#f41c1c"/>
<circle cx="117.58" cy="313.85" r="1.75" fill="#f41c1c"/>
<circle cx="118.60" cy="313.28" r="1.75" fill="#f41c1c"/>
<circle cx="119.62" cy="313.41" r="1.75" fill="#f41c1c"/>
<circle cx="120.63" cy="313.46" r="1.75" fill="#f41c1c"/>
<circle cx="121.65" cy="313.69" r="1.75" fill="#f41c1c"/>
<circle cx="122.67" cy="313.81" r="1.75" fill="#f41c1c"/>
<circle cx="123.69" cy="314.39" r="1.75" fill="#f41c1c"/>
<circle cx="124.71" cy="314.36" r="1.75" fill="#f41c1c"/>
<circle cx="125.72" cy="314.46" r="1.75" fill="#f41c1c"/>
<circle cx="126.74" cy="313.68" r="1.75" fill="#f41c1c"/>
<circle cx="127.76" cy="313.77" r="1.75" fill="#f41c1c"/>
<circle cx="128.78" cy="314.52" r="1.75" fill="#f41c1c"/>
<circle cx="129.80" cy="314.78" r="1.75" fill="#f41c1c"/>
<circle cx="130.81" cy="314.43" r="1.75" fill="#f41c1c"/>
<circle cx="131.83" cy="314.62" r="1.75" fill="#f41c1c"/>
<circle cx="132.85" cy="314.11" r="1.75" fill="#f41c1c"/>
<circle cx="133.87" cy="314.58" r="1.75" fill="#f41c1c"/>
<circle cx="134.89" cy="315.19" r="1.75" fill="#f41c1c"/>
<circle cx="135.90" cy="315.17" r="1.75" fill="#f41c1c"/>
<circle cx="136.92" cy="315.27" r="1.75" fill="#f41c1c"/>
<circle cx="137.94" cy="315.47" r="1.75" fill="#f41c1c"/>
<circle cx="138.96" cy="314.82" r="1.75" fill="#f41c1c"/>
<circle cx="139.98" cy="314.76" r="1.75" fill="#f41c1c"/>
<circle cx="140.99" cy="314.88" r="1.75" fill="#f41c1c"/>
<circle cx="142.01" cy="315.32" r="1.75" fill="#f41c1c"/>
<circle cx="143.03" cy="315.56" r="1.75" fill="#f41c1c"/>
<circle cx="144.05" cy="315.90" r="1.75" fill="#f41c1c"/>
<circle cx="145.07" cy="315.75" r="1.75" fill="#f41c1c"/>
<circle cx="146.08" cy="315.75" r="1.75" fill="#f41c1c"/>
<circle cx="147.10" cy="315.95" r="1.75" fill="#f41c1c"/>
<circle cx="148.12" cy="315.72" r="1.75" fill="#f41c1c"/>
<circle cx="149.14" cy="315.89" r="1.75" fill="#f41c1c"/>
<circle cx="150.16" cy="315.45" r="1.75" fill="#f41c1c"/>
<circle cx="151.17" cy="316.27" r="1.75" fill="#f41c1c"/>
<circle cx="152.19" cy="315.80" r="1.75" fill="#f41c1c"/>
<circle cx="153.21" cy="316.56" r="1.75" fill="#f41c1c"/>
<circle cx="154.23" cy="316.36" r="1.75" fill="#f41c1c"/>
<circle cx="155.25" cy="316.10" r="1.75" fill="#f41c1c"/>
<circle cx="156.26" cy="316.00" r="1.75" fill="#f41c1c"/>
<circle cx="157.28" cy="316.20" r="1.75" fill="#f41c1c"/>
<circle cx="158.30" cy="316.66" r="1.75" fill="#f41c1c"/>
<circle cx="159.32" cy="316.80" r="1.75" fill="#f41c1c"/>
<circle cx="160.34" cy="316.29" r="1.75" fill="#f41c1c"/>
<circle cx="161.35" cy="316.32" r="1.75" fill="#f41c1c"/>
<circle cx="162.37" cy="316.85" r="1.75" fill="#f41c1c"/>
<circle cx="163.39" cy="316.99" r="1.75" fill="#f41c1c"/>
<circle cx="164.41" cy="316.87" r="1.75" fill="#f41c1c"/>
<circle cx="165.43" cy="316.78" r="1.75" fill="#f41c1c"/>
<circle cx="166.44" cy="317.23" r="1.75" fill="#f41c1c"/>
<circle cx="167.46" cy="316.72" r="1.75" fill="#f41c1c"/>
<circle cx="168.48" cy="317.09" r="1.75" fill="#f41c1c"/>
<circle cx="169.50" cy="317.32" r="1.75" fill="#f41c1c"/>
<circle cx="170.52" cy="317.90" r="1.75" fill="#f41c1c"/>
<circle cx="171.53" cy="317.66" r="1.75" fill="#f41c1c"/>
<circle cx="172.55" cy="317.98" r="1.75" fill="#f41c1c"/>
<circle cx="173.57" cy="317.64" r="1.75" fill="#f41c1c"/>
<circle cx="174.59" cy="317.48" r="1.75" fill="#f41c1c"/>
<circle cx="175.61" cy="317.57" r="1.75" fill="#f41c1c"/>
<circle cx="176.62" cy="318.36" r="1.75" fill="#f41c1c"/>
<circle cx="177.64" cy="318.18" r="1.75" fill="#f41c1c"/>
<circle cx="178.66" cy="317.85" r="1.75" fill="#f41c1c"/>
<circle cx="179.68" cy="317.63" r="1.75" fill="#f41c1c"/>
<circle cx="180.70" cy="318.18" r="1.75" fill="#f41c1c"/>
<circle cx="181.71" cy="318.42" r="1.75" fill="#f41c1c"/>
<circle cx="182.73" cy="318.24" r="1.75" fill="#f41c1c"/>
<circle cx="183.75" cy="318.14" r="1.75" fill="#f41c1c"/>
<circle cx="184.77" cy="318.62" r="1.75" fill="#f41c1c"/>
<circle cx="185.79" cy="318.94" r="1.75" fill="#f41c1c"/>
<circle cx="186.80" cy="318.31" r="1.75" fill="#f41c1c"/>
<circle cx="187.82" cy="318.19" r="1.75" fill="#f41c1c"/>
<circle cx="188.84" cy="318.56" r="1.75" fill="#f41c1c"/>
<circle cx="189.86" cy="318.71" r="1.75" fill="#f41c1c"/>
<circle cx="190.88" cy="319.04" r="1.75" fill="#f41c1c"/>
<circle cx="191.89" cy="318.62" r="1.75" fill="#f41c1c"/>
<circle cx="192.91" cy="319.29" r="1.75" fill="#f41c1c"/>
<circle cx="193.93" cy="319.30" r="1.75" fill="#f41c1c"/>
<circle cx="194.95" cy="319.13" r="1.75" fill="#f41c1c"/>
<circle cx="195.97" cy="318.90" r="1.75" fill="#f41c1c"/>
<circle cx="196.98" cy="319.74" r="1.75" fill="#f41c1c"/>
<circle cx="198.00" cy="319.15" r="1.75" fill="#f41c1c"/>
<circle cx="199.02" cy="319.72" r="1.75" fill="#f41c1c"/>
<circle cx="200.04" cy="319.20" r="1.75" fill="#f41c1c"/>
<circle cx="201.06" cy="319.26" r="1.75" fill="#f41c1c"/>
<circle cx="202.07" cy="319.86" r="1.75" fill="#f41c1c"/>
<circle cx="203.09" cy="319.43" r="1.75" fill="#f41c1c"/>
<circle cx="204.11" cy="320.13" r="1.75" fill="#f41c1c"/>
<circle cx="205.13" cy="319.71" r="1.75" fill="#f41c1c"/>
<circle cx="206.15" cy="319.44" r="1.75" fill="#f41c1c"/>
<circle cx="207.16" cy="319.51" r="1.75" fill="#f41c1c"/>
<circle cx="208.18" cy="319.74" r="1.75" fill="#f41c1c"/>
<circle cx="209.20" cy="320.02" r="1.75" fill="#f41c1c"/>
<circle cx="210.22" cy="320.34" r="1.75" fill="#f41c1c"/>
<circle cx="211.24" cy="319.58" r="1.75" fill="#f41c1c"/>
<circle cx="212.25" cy="319.86" r="1.75" fill="#f41c1c"/>
<circle cx="213.27" cy="319.72" r="1.75" fill="#f41c1c"/>
<circle cx="214.29" cy="320.51" r="1.75" fill="#f41c1c"/>
<circle cx="215.31" cy="319.72" r="1.75" fill="#f41c1c"/>
<circle cx="216.33" cy="319.66" r="1.75" fill="#f41c1c"/>
<circle cx="217.34" cy="319.71" r="1.75" fill="#f41c1c"/>
<circle cx="218.36" cy="320.08" r="1.75" fill="#f41c1c"/>
<circle cx="219.38" cy="320.62" r="1.75" fill="#f41c1c"/>
<circle cx="220.40" cy="320.64" r="1.75" fill="#f41c1c"/>
<circle cx="221.42" cy="320.53" r="1.75" fill="#f41c1c"/>
<circle cx="222.43" cy="320.83" r="1.75" fill="#f41c1c"/>
<circle cx="223.45" cy="320.80" r="1.75" fill="#f41c1c"/>
<circle cx="224.47" cy="320.23" r="1.75" fill="#f41c1c"/>
<circle cx="225.49" cy="320.12" r="1.75" fill="#f41c1c"/>
<circle cx="226.51" cy="320.91" r="1.75" fill="#f41c1c"/>
<circle cx="227.52" cy="320.76" r="1.75" fill="#f41c1c"/>
<circle cx="228.54" cy="320.08" r="1.75" fill="#f41c1c"/>
<circle cx="229.56" cy="320.75" r="1.75" fill="#f41c1c"/>
<circle cx="230.58" cy="320.50" r="1.75" fill="#f41c1c"/>
<circle cx="231.60" cy="320.53" r="1.75" fill="#f41c1c"/>
<circle cx="232.61" cy="320.52" r="1.75" fill="#f41c1c"/>
<circle cx="233.63" cy="320.39" r="1.75" fill="#f41c1c"/>
<circle cx="234.65" cy="320.26" r="1.75" fill="#f41c1c"/>
<circle cx="235.67" cy="320.57" r="1.75" fill="#f41c1c"/>
<circle cx="236.69" cy="320.67" r="1.75" fill="#f41c1c"/>
<circle cx="237.70" cy="321.31" r="1.75" fill="#f41c1c"/>
<circle cx="238.72" cy="320.51" r="1.75" fill="#f41c1c"/>
<circle cx="239.74" cy="321.38" r="1.75" fill="#f41c1c"/>
<circle cx="240.76" cy="320.66" r="1.75" fill="#f41c1c"/>
<circle cx="241.78" cy="320.84" r="1.75" fill="#f41c1c"/>
<circle cx="242.79" cy="321.34" r="1.75" fill="#f41c1c"/>
<circle cx="243.81" cy="321.37" r="1.75" fill="#f41c1c"/>
<circle cx="244.83" cy="321.02" r="1.75" fill="#f41c1c"/>
<circle cx="245.85" cy="320.67" r="1.75" fill="#f41c1c"/>
<circle cx="246.87" cy="321.13" r="1.75" fill="#f41c1c"/>
<circle cx="247.88" cy="321.06" r="1.75" fill="#f41c1c"/>
<circle cx="248.90" cy="321.64" r="1.75" fill="#f41c1c"/>
<circle cx="249.92" cy="320.95" r="1.75" fill="#f41c1c"/>
<circle cx="250.94" cy="321.15" r="1.75" fill="#f41c1c"/>
<circle cx="251.96" cy="321.72" r="1.75" fill="#f41c1c"/>
<circle cx="252.97" cy="320.88" r="1.75" fill="#f41c1c"/>
<circle cx="253.99" cy="321.30" r="1.75" fill="#f41c1c"/>
<circle cx="255.01" cy="321.73" r="1.75" fill="#f41c1c"/>
<circle cx="256.03" cy="321.72" r="1.75" fill="#f41c1c"/>
<circle cx="257.05" cy="321.03" r="1.75" fill="#f41c1c"/>
<circle cx="258.06" cy="321.05" r="1.75" fill="#f41c1c"/>
<circle cx="259.08" cy="321.12" r="1.75" fill="#f41c1c"/>
<circle cx="260.10" cy="322.01" r="1.75" fill="#f41c1c"/>
<polyline points="63.50,283.50 65.10,285.70 70.00,287.50 80.00,289.80 90.00,290.80 100.00,291.50 120.00,293.30 130.00,294.00 154.00,293.60 178.00,293.20 190.00,293.60 193.60,296.40 196.50,294.60 210.00,293.90 226.00,293.40 245.00,293.70 260.50,294.00" fill="none" stroke="#0a0a0a" stroke-width="2.0" stroke-linejoin="round" stroke-linecap="round" />
<rect x="62.13" y="281.93" width="3.0" height="3.0" fill="#0a0a0a"/>
<rect x="63.14" y="283.82" width="3.0" height="3.0" fill="#0a0a0a"/>
<rect x="64.16" y="284.81" width="3.0" height="3.0" fill="#0a0a0a"/>
<rect x="65.18" y="284.62" width="3.0" height="3.0" fill="#0a0a0a"/>
<rect x="66.20" y="284.93" width="3.0" height="3.0" fill="#0a0a0a"/>
<rect x="67.22" y="285.99" width="3.0" height="3.0" fill="#0a0a0a"/>
<rect x="68.23" y="286.02" width="3.0" height="3.0" fill="#0a0a0a"/>
<rect x="69.25" y="285.94" width="3.0" height="3.0" fill="#0a0a0a"/>
<rect x="70.27" y="286.62" width="3.0" height="3.0" fill="#0a0a0a"/>
<rect x="71.29" y="286.46" width="3.0" height="3.0" fill="#0a0a0a"/>
<rect x="72.31" y="286.65" width="3.0" height="3.0" fill="#0a0a0a"/>
<rect x="73.32" y="286.61" width="3.0" height="3.0" fill="#0a0a0a"/>
<rect x="74.34" y="287.60" width="3.0" height="3.0" fill="#0a0a0a"/>
<rect x="75.36" y="287.99" width="3.0" height="3.0" fill="#0a0a0a"/>
<rect x="76.38" y="287.95" width="3.0" height="3.0" fill="#0a0a0a"/>
<rect x="77.40" y="288.49" width="3.0" height="3.0" fill="#0a0a0a"/>
<rect x="78.41" y="287.80" width="3.0" height="3.0" fill="#0a0a0a"/>
<rect x="79.43" y="288.13" width="3.0" height="3.0" fill="#0a0a0a"/>
<rect x="80.45" y="288.47" width="3.0" height="3.0" fill="#0a0a0a"/>
<rect x="81.47" y="289.05" width="3.0" height="3.0" fill="#0a0a0a"/>
<rect x="82.49" y="289.15" width="3.0" height="3.0" fill="#0a0a0a"/>
<rect x="83.50" y="288.69" width="3.0" height="3.0" fill="#0a0a0a"/>
<rect x="84.52" y="288.65" width="3.0" height="3.0" fill="#0a0a0a"/>
<rect x="85.54" y="288.93" width="3.0" height="3.0" fill="#0a0a0a"/>
<rect x="86.56" y="289.10" width="3.0" height="3.0" fill="#0a0a0a"/>
<rect x="87.58" y="289.64" width="3.0" height="3.0" fill="#0a0a0a"/>
<rect x="88.59" y="288.99" width="3.0" height="3.0" fill="#0a0a0a"/>
<rect x="89.61" y="289.68" width="3.0" height="3.0" fill="#0a0a0a"/>
<rect x="90.63" y="289.69" width="3.0" height="3.0" fill="#0a0a0a"/>
<rect x="91.65" y="289.84" width="3.0" height="3.0" fill="#0a0a0a"/>
<rect x="92.67" y="289.86" width="3.0" height="3.0" fill="#0a0a0a"/>
<rect x="93.68" y="289.77" width="3.0" height="3.0" fill="#0a0a0a"/>
<rect x="94.70" y="289.56" width="3.0" height="3.0" fill="#0a0a0a"/>
<rect x="95.72" y="289.62" width="3.0" height="3.0" fill="#0a0a0a"/>
<rect x="96.74" y="289.74" width="3.0" height="3.0" fill="#0a0a0a"/>
<rect x="97.76" y="290.23" width="3.0" height="3.0" fill="#0a0a0a"/>
<rect x="98.77" y="289.60" width="3.0" height="3.0" fill="#0a0a0a"/>
<rect x="99.79" y="289.81" width="3.0" height="3.0" fill="#0a0a0a"/>
<rect x="100.81" y="290.46" width="3.0" height="3.0" fill="#0a0a0a"/>
<rect x="101.83" y="290.05" width="3.0" height="3.0" fill="#0a0a0a"/>
<rect x="102.85" y="289.96" width="3.0" height="3.0" fill="#0a0a0a"/>
<rect x="103.86" y="290.02" width="3.0" height="3.0" fill="#0a0a0a"/>
<rect x="104.88" y="290.63" width="3.0" height="3.0" fill="#0a0a0a"/>
<rect x="105.90" y="290.49" width="3.0" height="3.0" fill="#0a0a0a"/>
<rect x="106.92" y="291.24" width="3.0" height="3.0" fill="#0a0a0a"/>
<rect x="107.94" y="291.23" width="3.0" height="3.0" fill="#0a0a0a"/>
<rect x="108.95" y="291.43" width="3.0" height="3.0" fill="#0a0a0a"/>
<rect x="109.97" y="290.80" width="3.0" height="3.0" fill="#0a0a0a"/>
<rect x="110.99" y="290.71" width="3.0" height="3.0" fill="#0a0a0a"/>
<rect x="112.01" y="290.81" width="3.0" height="3.0" fill="#0a0a0a"/>
<rect x="113.03" y="291.31" width="3.0" height="3.0" fill="#0a0a0a"/>
<rect x="114.04" y="291.61" width="3.0" height="3.0" fill="#0a0a0a"/>
<rect x="115.06" y="291.44" width="3.0" height="3.0" fill="#0a0a0a"/>
<rect x="116.08" y="291.32" width="3.0" height="3.0" fill="#0a0a0a"/>
<rect x="117.10" y="291.59" width="3.0" height="3.0" fill="#0a0a0a"/>
<rect x="118.12" y="291.89" width="3.0" height="3.0" fill="#0a0a0a"/>
<rect x="119.13" y="292.02" width="3.0" height="3.0" fill="#0a0a0a"/>
<rect x="120.15" y="292.16" width="3.0" height="3.0" fill="#0a0a0a"/>
<rect x="121.17" y="292.33" width="3.0" height="3.0" fill="#0a0a0a"/>
<rect x="122.19" y="292.22" width="3.0" height="3.0" fill="#0a0a0a"/>
<rect x="123.21" y="291.75" width="3.0" height="3.0" fill="#0a0a0a"/>
<rect x="124.22" y="292.54" width="3.0" height="3.0" fill="#0a0a0a"/>
<rect x="125.24" y="292.07" width="3.0" height="3.0" fill="#0a0a0a"/>
<rect x="126.26" y="292.41" width="3.0" height="3.0" fill="#0a0a0a"/>
<rect x="127.28" y="292.29" width="3.0" height="3.0" fill="#0a0a0a"/>
<rect x="128.30" y="292.72" width="3.0" height="3.0" fill="#0a0a0a"/>
<rect x="129.31" y="292.19" width="3.0" height="3.0" fill="#0a0a0a"/>
<rect x="130.33" y="292.22" width="3.0" height="3.0" fill="#0a0a0a"/>
<rect x="131.35" y="292.20" width="3.0" height="3.0" fill="#0a0a0a"/>
<rect x="132.37" y="292.09" width="3.0" height="3.0" fill="#0a0a0a"/>
<rect x="133.39" y="292.80" width="3.0" height="3.0" fill="#0a0a0a"/>
<rect x="134.40" y="292.48" width="3.0" height="3.0" fill="#0a0a0a"/>
<rect x="135.42" y="292.21" width="3.0" height="3.0" fill="#0a0a0a"/>
<rect x="136.44" y="292.26" width="3.0" height="3.0" fill="#0a0a0a"/>
<rect x="137.46" y="292.84" width="3.0" height="3.0" fill="#0a0a0a"/>
<rect x="138.48" y="292.34" width="3.0" height="3.0" fill="#0a0a0a"/>
<rect x="139.49" y="292.05" width="3.0" height="3.0" fill="#0a0a0a"/>
<rect x="140.51" y="292.61" width="3.0" height="3.0" fill="#0a0a0a"/>
<rect x="141.53" y="292.44" width="3.0" height="3.0" fill="#0a0a0a"/>
<rect x="142.55" y="292.76" width="3.0" height="3.0" fill="#0a0a0a"/>
<rect x="143.57" y="291.85" width="3.0" height="3.0" fill="#0a0a0a"/>
<rect x="144.58" y="292.21" width="3.0" height="3.0" fill="#0a0a0a"/>
<rect x="145.60" y="292.53" width="3.0" height="3.0" fill="#0a0a0a"/>
<rect x="146.62" y="292.54" width="3.0" height="3.0" fill="#0a0a0a"/>
<rect x="147.64" y="292.60" width="3.0" height="3.0" fill="#0a0a0a"/>
<rect x="148.66" y="291.70" width="3.0" height="3.0" fill="#0a0a0a"/>
<rect x="149.67" y="291.94" width="3.0" height="3.0" fill="#0a0a0a"/>
<rect x="150.69" y="291.75" width="3.0" height="3.0" fill="#0a0a0a"/>
<rect x="151.71" y="291.80" width="3.0" height="3.0" fill="#0a0a0a"/>
<rect x="152.73" y="292.57" width="3.0" height="3.0" fill="#0a0a0a"/>
<rect x="153.75" y="292.16" width="3.0" height="3.0" fill="#0a0a0a"/>
<rect x="154.76" y="292.49" width="3.0" height="3.0" fill="#0a0a0a"/>
<rect x="155.78" y="291.92" width="3.0" height="3.0" fill="#0a0a0a"/>
<rect x="156.80" y="292.39" width="3.0" height="3.0" fill="#0a0a0a"/>
<rect x="157.82" y="291.96" width="3.0" height="3.0" fill="#0a0a0a"/>
<rect x="158.84" y="291.75" width="3.0" height="3.0" fill="#0a0a0a"/>
<rect x="159.85" y="292.26" width="3.0" height="3.0" fill="#0a0a0a"/>
<rect x="160.87" y="292.41" width="3.0" height="3.0" fill="#0a0a0a"/>
<rect x="161.89" y="291.55" width="3.0" height="3.0" fill="#0a0a0a"/>
<rect x="162.91" y="292.02" width="3.0" height="3.0" fill="#0a0a0a"/>
<rect x="163.93" y="292.03" width="3.0" height="3.0" fill="#0a0a0a"/>
<rect x="164.94" y="291.61" width="3.0" height="3.0" fill="#0a0a0a"/>
<rect x="165.96" y="291.74" width="3.0" height="3.0" fill="#0a0a0a"/>
<rect x="166.98" y="291.50" width="3.0" height="3.0" fill="#0a0a0a"/>
<rect x="168.00" y="291.55" width="3.0" height="3.0" fill="#0a0a0a"/>
<rect x="169.02" y="291.58" width="3.0" height="3.0" fill="#0a0a0a"/>
<rect x="170.03" y="291.91" width="3.0" height="3.0" fill="#0a0a0a"/>
<rect x="171.05" y="291.94" width="3.0" height="3.0" fill="#0a0a0a"/>
<rect x="172.07" y="291.48" width="3.0" height="3.0" fill="#0a0a0a"/>
<rect x="173.09" y="291.27" width="3.0" height="3.0" fill="#0a0a0a"/>
<rect x="174.11" y="291.57" width="3.0" height="3.0" fill="#0a0a0a"/>
<rect x="175.12" y="291.90" width="3.0" height="3.0" fill="#0a0a0a"/>
<rect x="176.14" y="291.39" width="3.0" height="3.0" fill="#0a0a0a"/>
<rect x="177.16" y="291.53" width="3.0" height="3.0" fill="#0a0a0a"/>
<rect x="178.18" y="291.46" width="3.0" height="3.0" fill="#0a0a0a"/>
<rect x="179.20" y="292.09" width="3.0" height="3.0" fill="#0a0a0a"/>
<rect x="180.21" y="291.87" width="3.0" height="3.0" fill="#0a0a0a"/>
<rect x="181.23" y="291.42" width="3.0" height="3.0" fill="#0a0a0a"/>
<rect x="182.25" y="291.49" width="3.0" height="3.0" fill="#0a0a0a"/>
<rect x="183.27" y="291.82" width="3.0" height="3.0" fill="#0a0a0a"/>
<rect x="184.29" y="292.01" width="3.0" height="3.0" fill="#0a0a0a"/>
<rect x="185.30" y="292.13" width="3.0" height="3.0" fill="#0a0a0a"/>
<rect x="186.32" y="291.62" width="3.0" height="3.0" fill="#0a0a0a"/>
<rect x="187.34" y="291.73" width="3.0" height="3.0" fill="#0a0a0a"/>
<rect x="188.36" y="292.29" width="3.0" height="3.0" fill="#0a0a0a"/>
<rect x="189.38" y="292.69" width="3.0" height="3.0" fill="#0a0a0a"/>
<rect x="190.39" y="293.36" width="3.0" height="3.0" fill="#0a0a0a"/>
<rect x="191.41" y="294.17" width="3.0" height="3.0" fill="#0a0a0a"/>
<rect x="192.43" y="295.15" width="3.0" height="3.0" fill="#0a0a0a"/>
<rect x="193.45" y="293.88" width="3.0" height="3.0" fill="#0a0a0a"/>
<rect x="194.47" y="293.50" width="3.0" height="3.0" fill="#0a0a0a"/>
<rect x="195.48" y="292.93" width="3.0" height="3.0" fill="#0a0a0a"/>
<rect x="196.50" y="292.94" width="3.0" height="3.0" fill="#0a0a0a"/>
<rect x="197.52" y="293.33" width="3.0" height="3.0" fill="#0a0a0a"/>
<rect x="198.54" y="293.41" width="3.0" height="3.0" fill="#0a0a0a"/>
<rect x="199.56" y="292.73" width="3.0" height="3.0" fill="#0a0a0a"/>
<rect x="200.57" y="292.51" width="3.0" height="3.0" fill="#0a0a0a"/>
<rect x="201.59" y="292.99" width="3.0" height="3.0" fill="#0a0a0a"/>
<rect x="202.61" y="292.41" width="3.0" height="3.0" fill="#0a0a0a"/>
<rect x="203.63" y="292.16" width="3.0" height="3.0" fill="#0a0a0a"/>
<rect x="204.65" y="293.00" width="3.0" height="3.0" fill="#0a0a0a"/>
<rect x="205.66" y="292.47" width="3.0" height="3.0" fill="#0a0a0a"/>
<rect x="206.68" y="292.81" width="3.0" height="3.0" fill="#0a0a0a"/>
<rect x="207.70" y="292.35" width="3.0" height="3.0" fill="#0a0a0a"/>
<rect x="208.72" y="292.78" width="3.0" height="3.0" fill="#0a0a0a"/>
<rect x="209.74" y="292.32" width="3.0" height="3.0" fill="#0a0a0a"/>
<rect x="210.75" y="291.99" width="3.0" height="3.0" fill="#0a0a0a"/>
<rect x="211.77" y="291.81" width="3.0" height="3.0" fill="#0a0a0a"/>
<rect x="212.79" y="292.32" width="3.0" height="3.0" fill="#0a0a0a"/>
<rect x="213.81" y="292.37" width="3.0" height="3.0" fill="#0a0a0a"/>
<rect x="214.83" y="292.61" width="3.0" height="3.0" fill="#0a0a0a"/>
<rect x="215.84" y="291.76" width="3.0" height="3.0" fill="#0a0a0a"/>
<rect x="216.86" y="292.26" width="3.0" height="3.0" fill="#0a0a0a"/>
<rect x="217.88" y="291.98" width="3.0" height="3.0" fill="#0a0a0a"/>
<rect x="218.90" y="292.08" width="3.0" height="3.0" fill="#0a0a0a"/>
<rect x="219.92" y="291.69" width="3.0" height="3.0" fill="#0a0a0a"/>
<rect x="220.93" y="291.79" width="3.0" height="3.0" fill="#0a0a0a"/>
<rect x="221.95" y="292.00" width="3.0" height="3.0" fill="#0a0a0a"/>
<rect x="222.97" y="292.37" width="3.0" height="3.0" fill="#0a0a0a"/>
<rect x="223.99" y="291.52" width="3.0" height="3.0" fill="#0a0a0a"/>
<rect x="225.01" y="291.90" width="3.0" height="3.0" fill="#0a0a0a"/>
<rect x="226.02" y="292.23" width="3.0" height="3.0" fill="#0a0a0a"/>
<rect x="227.04" y="292.41" width="3.0" height="3.0" fill="#0a0a0a"/>
<rect x="228.06" y="291.65" width="3.0" height="3.0" fill="#0a0a0a"/>
<rect x="229.08" y="291.60" width="3.0" height="3.0" fill="#0a0a0a"/>
<rect x="230.10" y="292.43" width="3.0" height="3.0" fill="#0a0a0a"/>
<rect x="231.11" y="292.48" width="3.0" height="3.0" fill="#0a0a0a"/>
<rect x="232.13" y="292.00" width="3.0" height="3.0" fill="#0a0a0a"/>
<rect x="233.15" y="291.59" width="3.0" height="3.0" fill="#0a0a0a"/>
<rect x="234.17" y="292.48" width="3.0" height="3.0" fill="#0a0a0a"/>
<rect x="235.19" y="291.96" width="3.0" height="3.0" fill="#0a0a0a"/>
<rect x="236.20" y="292.49" width="3.0" height="3.0" fill="#0a0a0a"/>
<rect x="237.22" y="292.22" width="3.0" height="3.0" fill="#0a0a0a"/>
<rect x="238.24" y="292.44" width="3.0" height="3.0" fill="#0a0a0a"/>
<rect x="239.26" y="291.79" width="3.0" height="3.0" fill="#0a0a0a"/>
<rect x="240.28" y="292.43" width="3.0" height="3.0" fill="#0a0a0a"/>
<rect x="241.29" y="291.89" width="3.0" height="3.0" fill="#0a0a0a"/>
<rect x="242.31" y="292.09" width="3.0" height="3.0" fill="#0a0a0a"/>
<rect x="243.33" y="292.54" width="3.0" height="3.0" fill="#0a0a0a"/>
<rect x="244.35" y="292.55" width="3.0" height="3.0" fill="#0a0a0a"/>
<rect x="245.37" y="291.92" width="3.0" height="3.0" fill="#0a0a0a"/>
<rect x="246.38" y="291.97" width="3.0" height="3.0" fill="#0a0a0a"/>
<rect x="247.40" y="292.18" width="3.0" height="3.0" fill="#0a0a0a"/>
<rect x="248.42" y="292.31" width="3.0" height="3.0" fill="#0a0a0a"/>
<rect x="249.44" y="292.20" width="3.0" height="3.0" fill="#0a0a0a"/>
<rect x="250.46" y="291.96" width="3.0" height="3.0" fill="#0a0a0a"/>
<rect x="251.47" y="292.10" width="3.0" height="3.0" fill="#0a0a0a"/>
<rect x="252.49" y="292.60" width="3.0" height="3.0" fill="#0a0a0a"/>
<rect x="253.51" y="292.79" width="3.0" height="3.0" fill="#0a0a0a"/>
<rect x="254.53" y="291.95" width="3.0" height="3.0" fill="#0a0a0a"/>
<rect x="255.55" y="292.50" width="3.0" height="3.0" fill="#0a0a0a"/>
<rect x="256.56" y="292.71" width="3.0" height="3.0" fill="#0a0a0a"/>
<rect x="257.58" y="292.01" width="3.0" height="3.0" fill="#0a0a0a"/>
<rect x="258.60" y="292.83" width="3.0" height="3.0" fill="#0a0a0a"/>
<circle cx="58.00" cy="245.30" r="2.1" fill="#f41c1c"/>
<circle cx="59.00" cy="262.50" r="2.1" fill="#f41c1c"/>
<circle cx="60.10" cy="277.60" r="2.1" fill="#f41c1c"/>
<circle cx="61.10" cy="282.60" r="2.1" fill="#f41c1c"/>
<circle cx="62.10" cy="287.70" r="2.1" fill="#f41c1c"/>
<circle cx="64.10" cy="295.80" r="2.1" fill="#f41c1c"/>
<rect x="56.20" y="213.30" width="3.6" height="3.6" fill="#0a0a0a"/>
<rect x="56.80" y="247.60" width="3.6" height="3.6" fill="#0a0a0a"/>
<rect x="58.30" y="259.70" width="3.6" height="3.6" fill="#0a0a0a"/>
<rect x="58.90" y="272.80" width="3.6" height="3.6" fill="#0a0a0a"/>
<rect x="60.30" y="277.80" width="3.6" height="3.6" fill="#0a0a0a"/>
<line x1="61.10" y1="226.20" x2="77.41" y2="249.72" stroke="#222" stroke-width="0.7" />
<polygon points="79.40,252.60 76.09,250.64 78.72,248.81" fill="#222"/>
<line x1="68.10" y1="283.70" x2="78.23" y2="259.82" stroke="#222" stroke-width="0.7" />
<polygon points="79.60,256.60 79.71,260.45 76.76,259.20" fill="#222"/>
<text x="81.60" y="258.40" font-size="9.05" text-anchor="start" font-weight="bold" fill="#000" stroke="#000" stroke-width="0.25" >0.05C activation</text>
<text x="94.80" y="281.40" font-size="9.05" text-anchor="start" font-weight="bold" fill="#000" stroke="#000" stroke-width="0.25" >HPCs/S@MnO<tspan dy="2.2" font-size="5.8">2</tspan></text>
<text x="169.20" y="281.40" font-size="9.1" text-anchor="start" font-weight="bold" fill="#000" stroke="#000" stroke-width="0.25" >7.0 mg cm<tspan dy="-3.3" font-size="5.6">-2</tspan></text>
<rect x="214.90" y="242.70" width="3.6" height="3.6" fill="#0a0a0a"/>
<circle cx="216.70" cy="256.00" r="2.1" fill="#f41c1c"/>
<text x="228.70" y="247.40" font-size="9.1" text-anchor="start" font-weight="bold" fill="#000" stroke="#000" stroke-width="0.25" >0.1 C</text>
<text x="228.70" y="259.20" font-size="9.1" text-anchor="start" font-weight="bold" fill="#000" stroke="#000" stroke-width="0.25" >0.5 C</text>
<rect x="317.70" y="203.50" width="201.60" height="154.30" fill="none" stroke="#4a4a4a" stroke-width="1.1"/>
<line x1="318.10" y1="357.80" x2="318.10" y2="354.80" stroke="#4a4a4a" stroke-width="1.1" />
<line x1="346.79" y1="357.80" x2="346.79" y2="354.80" stroke="#4a4a4a" stroke-width="1.1" />
<line x1="375.47" y1="357.80" x2="375.47" y2="354.80" stroke="#4a4a4a" stroke-width="1.1" />
<line x1="404.16" y1="357.80" x2="404.16" y2="354.80" stroke="#4a4a4a" stroke-width="1.1" />
<line x1="432.84" y1="357.80" x2="432.84" y2="354.80" stroke="#4a4a4a" stroke-width="1.1" />
<line x1="461.53" y1="357.80" x2="461.53" y2="354.80" stroke="#4a4a4a" stroke-width="1.1" />
<line x1="490.22" y1="357.80" x2="490.22" y2="354.80" stroke="#4a4a4a" stroke-width="1.1" />
<line x1="518.90" y1="357.80" x2="518.90" y2="354.80" stroke="#4a4a4a" stroke-width="1.1" />
<line x1="332.44" y1="357.80" x2="332.44" y2="356.00" stroke="#4a4a4a" stroke-width="1.1" />
<line x1="361.13" y1="357.80" x2="361.13" y2="356.00" stroke="#4a4a4a" stroke-width="1.1" />
<line x1="389.82" y1="357.80" x2="389.82" y2="356.00" stroke="#4a4a4a" stroke-width="1.1" />
<line x1="418.50" y1="357.80" x2="418.50" y2="356.00" stroke="#4a4a4a" stroke-width="1.1" />
<line x1="447.19" y1="357.80" x2="447.19" y2="356.00" stroke="#4a4a4a" stroke-width="1.1" />
<line x1="475.87" y1="357.80" x2="475.87" y2="356.00" stroke="#4a4a4a" stroke-width="1.1" />
<line x1="504.56" y1="357.80" x2="504.56" y2="356.00" stroke="#4a4a4a" stroke-width="1.1" />
<line x1="317.70" y1="357.80" x2="320.70" y2="357.80" stroke="#4a4a4a" stroke-width="1.1" />
<line x1="317.70" y1="334.05" x2="320.70" y2="334.05" stroke="#4a4a4a" stroke-width="1.1" />
<line x1="317.70" y1="310.30" x2="320.70" y2="310.30" stroke="#4a4a4a" stroke-width="1.1" />
<line x1="317.70" y1="286.55" x2="320.70" y2="286.55" stroke="#4a4a4a" stroke-width="1.1" />
<line x1="317.70" y1="262.80" x2="320.70" y2="262.80" stroke="#4a4a4a" stroke-width="1.1" />
<line x1="317.70" y1="239.05" x2="320.70" y2="239.05" stroke="#4a4a4a" stroke-width="1.1" />
<line x1="317.70" y1="215.30" x2="320.70" y2="215.30" stroke="#4a4a4a" stroke-width="1.1" />
<line x1="317.70" y1="345.93" x2="319.50" y2="345.93" stroke="#4a4a4a" stroke-width="1.1" />
<line x1="317.70" y1="322.18" x2="319.50" y2="322.18" stroke="#4a4a4a" stroke-width="1.1" />
<line x1="317.70" y1="298.43" x2="319.50" y2="298.43" stroke="#4a4a4a" stroke-width="1.1" />
<line x1="317.70" y1="274.68" x2="319.50" y2="274.68" stroke="#4a4a4a" stroke-width="1.1" />
<line x1="317.70" y1="250.93" x2="319.50" y2="250.93" stroke="#4a4a4a" stroke-width="1.1" />
<line x1="317.70" y1="227.18" x2="319.50" y2="227.18" stroke="#4a4a4a" stroke-width="1.1" />
<text x="318.10" y="368.20" font-size="8.3" text-anchor="middle" font-weight="bold" fill="#000" stroke="#000" stroke-width="0.25" >0</text>
<text x="346.79" y="368.20" font-size="8.3" text-anchor="middle" font-weight="bold" fill="#000" stroke="#000" stroke-width="0.25" >200</text>
<text x="375.47" y="368.20" font-size="8.3" text-anchor="middle" font-weight="bold" fill="#000" stroke="#000" stroke-width="0.25" >400</text>
<text x="404.16" y="368.20" font-size="8.3" text-anchor="middle" font-weight="bold" fill="#000" stroke="#000" stroke-width="0.25" >600</text>
<text x="432.84" y="368.20" font-size="8.3" text-anchor="middle" font-weight="bold" fill="#000" stroke="#000" stroke-width="0.25" >800</text>
<text x="461.53" y="368.20" font-size="8.3" text-anchor="middle" font-weight="bold" fill="#000" stroke="#000" stroke-width="0.25" >1000</text>
<text x="490.22" y="368.20" font-size="8.3" text-anchor="middle" font-weight="bold" fill="#000" stroke="#000" stroke-width="0.25" >1200</text>
<text x="518.90" y="368.20" font-size="8.3" text-anchor="middle" font-weight="bold" fill="#000" stroke="#000" stroke-width="0.25" >1400</text>
<text x="313.80" y="360.80" font-size="8.3" text-anchor="end" font-weight="bold" fill="#000" stroke="#000" stroke-width="0.25" >1.6</text>
<text x="313.80" y="337.05" font-size="8.3" text-anchor="end" font-weight="bold" fill="#000" stroke="#000" stroke-width="0.25" >1.8</text>
<text x="313.80" y="313.30" font-size="8.3" text-anchor="end" font-weight="bold" fill="#000" stroke="#000" stroke-width="0.25" >2.0</text>
<text x="313.80" y="289.55" font-size="8.3" text-anchor="end" font-weight="bold" fill="#000" stroke="#000" stroke-width="0.25" >2.2</text>
<text x="313.80" y="265.80" font-size="8.3" text-anchor="end" font-weight="bold" fill="#000" stroke="#000" stroke-width="0.25" >2.4</text>
<text x="313.80" y="242.05" font-size="8.3" text-anchor="end" font-weight="bold" fill="#000" stroke="#000" stroke-width="0.25" >2.6</text>
<text x="313.80" y="218.30" font-size="8.3" text-anchor="end" font-weight="bold" fill="#000" stroke="#000" stroke-width="0.25" >2.8</text>
<text x="424.00" y="381.40" font-size="9.2" text-anchor="middle" font-weight="bold" fill="#000" stroke="#000" stroke-width="0.25" >Specific Capacity (mAh/g)</text>
<text transform="translate(293.8,279.7) rotate(-90)" font-size="9.3" text-anchor="middle" font-weight="bold" fill="#000" stroke="#000" stroke-width="0.25">Voltage (V)</text>
<path d="M318.2,220 L318.4,262 C320,268 330,272 338,276.5 C344,279.5 347,283 350,290 C352,295 353,298 355,298 C358,296.8 368,296.7 380,297.2 C395,298 410,300 425,305 C435,308.5 445,312 452,315 C456,318 458,326 460,333 L464.2,346" fill="none" stroke="#111" stroke-width="1.5" stroke-linejoin="round" stroke-linecap="round" />
<path d="M318.3,315.6 L318.3,286 C318.6,279.5 320,278 322,280.5 C324,283 328,283.6 335,283.4 C350,283 370,281.6 400,278.6 C430,275 455,270.5 468,268 C474,266.5 476.5,263.5 477.5,257 C478.5,248 479.2,232 479.6,215.6" fill="none" stroke="#111" stroke-width="1.5" stroke-linejoin="round" stroke-linecap="round" />
<path d="M318.4,297 L318.4,286 C318.8,283 320,282.6 322,283 C325,283.4 327,283.6 330,283.4 C332,283.5 334,283.3 336.0,283.9 C345.0,282.6 355.0,278.6 365.0,274.2 C372.0,271.5 380.0,269.2 388.0,266.7 C395.0,264.4 400.0,262.0 402.5,256.5 C404.2,250 404.8,232 405.0,215.6" fill="none" stroke="#f51818" stroke-width="1.5" stroke-linejoin="round" stroke-linecap="round" />
<path d="M318.4,297 L318.4,282 C318.8,277.5 320,277.5 321.5,280 C323,282.5 326,283.4 330,283.2 C332,283.0 334,282.8 335.4,282.9 C344.1,281.3 353.7,277.3 363.4,272.9 C370.1,270.2 377.9,267.9 385.6,265.6 C392.3,263.6 397.2,261.5 399.6,256.5 C401.2,250 401.8,232 402.0,215.6" fill="none" stroke="#2030ff" stroke-width="1.5" stroke-linejoin="round" stroke-linecap="round" />
<path d="M318.4,297 L318.4,286 C318.8,283 320,282.6 322,283 C325,283.4 327,283.6 330,283.4 C332,283.0 334,282.8 334.4,282.6 C342.6,280.5 351.8,276.5 360.9,272.1 C367.3,269.4 374.6,267.1 381.9,265.0 C388.3,263.1 392.8,261.2 395.1,256.5 C396.7,250 397.2,232 397.4,215.6" fill="none" stroke="#ff20ff" stroke-width="1.5" stroke-linejoin="round" stroke-linecap="round" />
<path d="M318.4,297 L318.4,286 C318.8,283 320,282.6 322,283 C325,283.4 327,283.6 330,283.4 C332,283.0 334,282.8 334.3,282.5 C342.4,280.3 351.4,276.3 360.5,271.9 C366.8,269.2 374.0,266.9 381.2,264.8 C387.6,263.0 392.1,261.1 394.3,256.5 C395.9,250 396.4,232 396.6,215.6" fill="none" stroke="#1a9a1a" stroke-width="1.5" stroke-linejoin="round" stroke-linecap="round" />
<path d="M318.4,297 L318.4,286 C318.8,283 320,282.6 322,283 C325,283.4 327,283.6 330,283.4 C332,283.0 334,282.8 334.1,282.4 C342.2,280.0 351.1,276.0 360.1,271.6 C366.4,268.9 373.5,266.6 380.7,264.6 C386.9,262.8 391.4,261.0 393.7,256.5 C395.2,250 395.7,232 395.9,215.6" fill="none" stroke="#ff8a10" stroke-width="1.5" stroke-linejoin="round" stroke-linecap="round" />
<path d="M318.3,227 L318.4,264 C321,268 327,272 332,276.5 C335,279 337,283 339.5,290 C341.5,297 343,303.5 347,305.0 C353,306.2 360,309.0 368,311.6 C375,313.8 381,315.2 386,318.6 C390,321.8 393.5,327 396.5,333.5 C398.5,338.5 400.3,342.5 401.5,346.2" fill="none" stroke="#f51818" stroke-width="1.5" stroke-linejoin="round" stroke-linecap="round" />
<path d="M318.3,227 L318.4,264 C321,268 327,272 332,276.5 C335,279 337,283 339.5,290 C341.5,297 343,304.2 347,306.4 C353,308.2 360,311.4 368,314.6 C374,316.8 379,317.8 382,319.3 C384.9,322 387.2,332 390.4,346.2" fill="none" stroke="#2030ff" stroke-width="1.5" stroke-linejoin="round" stroke-linecap="round" />
<path d="M318.3,227 L318.4,264 C321,268 327,272 332,276.5 C335,279 337,283 339.5,290 C341.5,297 343,303.6 347,305.2 C353,307.0 360,310.2 368,313.4 C374,315.6 379,316.6 382,318.7 C385.2,322 387.9,332 391.8,346.2" fill="none" stroke="#ff20ff" stroke-width="1.5" stroke-linejoin="round" stroke-linecap="round" />
<path d="M318.3,227 L318.4,264 C321,268 327,272 332,276.5 C335,279 337,283 339.5,290 C341.5,297 343,303.7 347,305.4 C353,307.2 360,310.4 368,313.6 C374,315.8 379,316.8 382,318.8 C385.1,322 387.6,332 391.2,346.2" fill="none" stroke="#1a9a1a" stroke-width="1.5" stroke-linejoin="round" stroke-linecap="round" />
<path d="M318.3,227 L318.4,264 C321,268 327,272 332,276.5 C335,279 337,283 339.5,290 C341.5,297 343,303.5 347,305.0 C353,306.8 360,310.0 368,313.2 C374,315.4 379,316.4 382,318.6 C385.0,322 387.5,332 391.0,346.2" fill="none" stroke="#ff8a10" stroke-width="1.5" stroke-linejoin="round" stroke-linecap="round" />
<line x1="460.70" y1="276.40" x2="477.70" y2="276.40" stroke="#111" stroke-width="1.6" />
<text x="479.00" y="279.30" font-size="7.4" text-anchor="start" font-weight="bold" fill="#000" stroke="#000" stroke-width="0.25" >1<tspan dy="-2.8" font-size="4.6">st</tspan><tspan dy="2.8"> (0.05 C)</tspan></text>
<line x1="460.70" y1="286.80" x2="477.70" y2="286.80" stroke="#f51818" stroke-width="1.6" />
<text x="479.00" y="289.70" font-size="7.4" text-anchor="start" font-weight="bold" fill="#000" stroke="#000" stroke-width="0.25" >7<tspan dy="-2.8" font-size="4.6">th</tspan><tspan dy="2.8"> (0.1 C)</tspan></text>
<line x1="460.70" y1="297.40" x2="477.70" y2="297.40" stroke="#2030ff" stroke-width="1.6" />
<text x="479.00" y="300.30" font-size="7.4" text-anchor="start" font-weight="bold" fill="#000" stroke="#000" stroke-width="0.25" >50<tspan dy="-2.8" font-size="4.6">th</tspan></text>
<line x1="460.70" y1="307.90" x2="477.70" y2="307.90" stroke="#ff20ff" stroke-width="1.6" />
<text x="479.00" y="310.80" font-size="7.4" text-anchor="start" font-weight="bold" fill="#000" stroke="#000" stroke-width="0.25" >100<tspan dy="-2.8" font-size="4.6">th</tspan></text>
<line x1="460.70" y1="318.60" x2="477.70" y2="318.60" stroke="#1a9a1a" stroke-width="1.6" />
<text x="479.00" y="321.50" font-size="7.4" text-anchor="start" font-weight="bold" fill="#000" stroke="#000" stroke-width="0.25" >150<tspan dy="-2.8" font-size="4.6">th</tspan></text>
<line x1="460.70" y1="329.00" x2="477.70" y2="329.00" stroke="#ff8a10" stroke-width="1.6" />
<text x="479.00" y="331.90" font-size="7.4" text-anchor="start" font-weight="bold" fill="#000" stroke="#000" stroke-width="0.25" >200<tspan dy="-2.8" font-size="4.6">th</tspan></text>
<rect x="54.80" y="394.60" width="206.50" height="167.00" fill="none" stroke="#4a4a4a" stroke-width="1.1"/>
<line x1="54.50" y1="561.60" x2="54.50" y2="558.60" stroke="#4a4a4a" stroke-width="1.1" />
<line x1="72.50" y1="561.60" x2="72.50" y2="558.60" stroke="#4a4a4a" stroke-width="1.1" />
<line x1="90.50" y1="561.60" x2="90.50" y2="558.60" stroke="#4a4a4a" stroke-width="1.1" />
<line x1="108.50" y1="561.60" x2="108.50" y2="558.60" stroke="#4a4a4a" stroke-width="1.1" />
<line x1="126.50" y1="561.60" x2="126.50" y2="558.60" stroke="#4a4a4a" stroke-width="1.1" />
<line x1="144.50" y1="561.60" x2="144.50" y2="558.60" stroke="#4a4a4a" stroke-width="1.1" />
<line x1="162.50" y1="561.60" x2="162.50" y2="558.60" stroke="#4a4a4a" stroke-width="1.1" />
<line x1="180.50" y1="561.60" x2="180.50" y2="558.60" stroke="#4a4a4a" stroke-width="1.1" />
<line x1="198.50" y1="561.60" x2="198.50" y2="558.60" stroke="#4a4a4a" stroke-width="1.1" />
<line x1="216.50" y1="561.60" x2="216.50" y2="558.60" stroke="#4a4a4a" stroke-width="1.1" />
<line x1="234.50" y1="561.60" x2="234.50" y2="558.60" stroke="#4a4a4a" stroke-width="1.1" />
<line x1="252.50" y1="561.60" x2="252.50" y2="558.60" stroke="#4a4a4a" stroke-width="1.1" />
<line x1="63.50" y1="561.60" x2="63.50" y2="559.80" stroke="#4a4a4a" stroke-width="1.1" />
<line x1="81.50" y1="561.60" x2="81.50" y2="559.80" stroke="#4a4a4a" stroke-width="1.1" />
<line x1="99.50" y1="561.60" x2="99.50" y2="559.80" stroke="#4a4a4a" stroke-width="1.1" />
<line x1="117.50" y1="561.60" x2="117.50" y2="559.80" stroke="#4a4a4a" stroke-width="1.1" />
<line x1="135.50" y1="561.60" x2="135.50" y2="559.80" stroke="#4a4a4a" stroke-width="1.1" />
<line x1="153.50" y1="561.60" x2="153.50" y2="559.80" stroke="#4a4a4a" stroke-width="1.1" />
<line x1="171.50" y1="561.60" x2="171.50" y2="559.80" stroke="#4a4a4a" stroke-width="1.1" />
<line x1="189.50" y1="561.60" x2="189.50" y2="559.80" stroke="#4a4a4a" stroke-width="1.1" />
<line x1="207.50" y1="561.60" x2="207.50" y2="559.80" stroke="#4a4a4a" stroke-width="1.1" />
<line x1="225.50" y1="561.60" x2="225.50" y2="559.80" stroke="#4a4a4a" stroke-width="1.1" />
<line x1="243.50" y1="561.60" x2="243.50" y2="559.80" stroke="#4a4a4a" stroke-width="1.1" />
<line x1="261.50" y1="561.60" x2="261.50" y2="559.80" stroke="#4a4a4a" stroke-width="1.1" />
<line x1="54.80" y1="561.60" x2="57.80" y2="561.60" stroke="#4a4a4a" stroke-width="1.1" />
<line x1="54.80" y1="533.76" x2="57.80" y2="533.76" stroke="#4a4a4a" stroke-width="1.1" />
<line x1="54.80" y1="505.93" x2="57.80" y2="505.93" stroke="#4a4a4a" stroke-width="1.1" />
<line x1="54.80" y1="478.10" x2="57.80" y2="478.10" stroke="#4a4a4a" stroke-width="1.1" />
<line x1="54.80" y1="450.26" x2="57.80" y2="450.26" stroke="#4a4a4a" stroke-width="1.1" />
<line x1="54.80" y1="422.43" x2="57.80" y2="422.43" stroke="#4a4a4a" stroke-width="1.1" />
<line x1="54.80" y1="394.59" x2="57.80" y2="394.59" stroke="#4a4a4a" stroke-width="1.1" />
<line x1="54.80" y1="547.68" x2="56.60" y2="547.68" stroke="#4a4a4a" stroke-width="1.1" />
<line x1="54.80" y1="519.85" x2="56.60" y2="519.85" stroke="#4a4a4a" stroke-width="1.1" />
<line x1="54.80" y1="492.01" x2="56.60" y2="492.01" stroke="#4a4a4a" stroke-width="1.1" />
<line x1="54.80" y1="464.18" x2="56.60" y2="464.18" stroke="#4a4a4a" stroke-width="1.1" />
<line x1="54.80" y1="436.34" x2="56.60" y2="436.34" stroke="#4a4a4a" stroke-width="1.1" />
<line x1="54.80" y1="408.51" x2="56.60" y2="408.51" stroke="#4a4a4a" stroke-width="1.1" />
<text x="54.50" y="572.60" font-size="8.6" text-anchor="middle" font-weight="bold" fill="#000" stroke="#000" stroke-width="0.25" >0</text>
<text x="72.50" y="572.60" font-size="8.6" text-anchor="middle" font-weight="bold" fill="#000" stroke="#000" stroke-width="0.25" >2</text>
<text x="90.50" y="572.60" font-size="8.6" text-anchor="middle" font-weight="bold" fill="#000" stroke="#000" stroke-width="0.25" >4</text>
<text x="108.50" y="572.60" font-size="8.6" text-anchor="middle" font-weight="bold" fill="#000" stroke="#000" stroke-width="0.25" >6</text>
<text x="126.50" y="572.60" font-size="8.6" text-anchor="middle" font-weight="bold" fill="#000" stroke="#000" stroke-width="0.25" >8</text>
<text x="144.50" y="572.60" font-size="8.6" text-anchor="middle" font-weight="bold" fill="#000" stroke="#000" stroke-width="0.25" >10</text>
<text x="162.50" y="572.60" font-size="8.6" text-anchor="middle" font-weight="bold" fill="#000" stroke="#000" stroke-width="0.25" >12</text>
<text x="180.50" y="572.60" font-size="8.6" text-anchor="middle" font-weight="bold" fill="#000" stroke="#000" stroke-width="0.25" >14</text>
<text x="198.50" y="572.60" font-size="8.6" text-anchor="middle" font-weight="bold" fill="#000" stroke="#000" stroke-width="0.25" >16</text>
<text x="216.50" y="572.60" font-size="8.6" text-anchor="middle" font-weight="bold" fill="#000" stroke="#000" stroke-width="0.25" >18</text>
<text x="234.50" y="572.60" font-size="8.6" text-anchor="middle" font-weight="bold" fill="#000" stroke="#000" stroke-width="0.25" >20</text>
<text x="252.50" y="572.60" font-size="8.6" text-anchor="middle" font-weight="bold" fill="#000" stroke="#000" stroke-width="0.25" >22</text>
<text x="50.90" y="564.60" font-size="8.6" text-anchor="end" font-weight="bold" fill="#000" stroke="#000" stroke-width="0.25" >0.0</text>
<text x="50.90" y="536.76" font-size="8.6" text-anchor="end" font-weight="bold" fill="#000" stroke="#000" stroke-width="0.25" >0.5</text>
<text x="50.90" y="508.93" font-size="8.6" text-anchor="end" font-weight="bold" fill="#000" stroke="#000" stroke-width="0.25" >1.0</text>
<text x="50.90" y="481.10" font-size="8.6" text-anchor="end" font-weight="bold" fill="#000" stroke="#000" stroke-width="0.25" >1.5</text>
<text x="50.90" y="453.26" font-size="8.6" text-anchor="end" font-weight="bold" fill="#000" stroke="#000" stroke-width="0.25" >2.0</text>
<text x="50.90" y="425.43" font-size="8.6" text-anchor="end" font-weight="bold" fill="#000" stroke="#000" stroke-width="0.25" >2.5</text>
<text x="50.90" y="397.59" font-size="8.6" text-anchor="end" font-weight="bold" fill="#000" stroke="#000" stroke-width="0.25" >3.0</text>
<text x="161.80" y="587.40" font-size="10.2" text-anchor="middle" font-weight="bold" fill="#000" stroke="#000" stroke-width="0.25" >Cycle number</text>
<text transform="translate(30.3,485.3) rotate(-90)" font-size="10.2" text-anchor="middle" font-weight="bold" fill="#000" stroke="#000" stroke-width="0.25">Capacity (Ah)</text>
<rect x="61.55" y="417.85" width="3.9" height="3.9" fill="#0a0a0a"/>
<rect x="70.55" y="425.15" width="3.9" height="3.9" fill="#0a0a0a"/>
<rect x="79.55" y="427.05" width="3.9" height="3.9" fill="#0a0a0a"/>
<rect x="88.55" y="441.15" width="3.9" height="3.9" fill="#0a0a0a"/>
<rect x="97.55" y="439.05" width="3.9" height="3.9" fill="#0a0a0a"/>
<rect x="106.55" y="439.25" width="3.9" height="3.9" fill="#0a0a0a"/>
<rect x="115.55" y="440.35" width="3.9" height="3.9" fill="#0a0a0a"/>
<rect x="124.55" y="442.85" width="3.9" height="3.9" fill="#0a0a0a"/>
<rect x="133.55" y="444.95" width="3.9" height="3.9" fill="#0a0a0a"/>
<rect x="142.55" y="447.25" width="3.9" height="3.9" fill="#0a0a0a"/>
<rect x="151.55" y="449.25" width="3.9" height="3.9" fill="#0a0a0a"/>
<rect x="160.55" y="451.15" width="3.9" height="3.9" fill="#0a0a0a"/>
<rect x="169.55" y="453.15" width="3.9" height="3.9" fill="#0a0a0a"/>
<rect x="178.55" y="455.05" width="3.9" height="3.9" fill="#0a0a0a"/>
<rect x="187.55" y="456.65" width="3.9" height="3.9" fill="#0a0a0a"/>
<rect x="196.55" y="457.25" width="3.9" height="3.9" fill="#0a0a0a"/>
<rect x="205.55" y="457.65" width="3.9" height="3.9" fill="#0a0a0a"/>
<rect x="214.55" y="458.45" width="3.9" height="3.9" fill="#0a0a0a"/>
<rect x="223.55" y="459.25" width="3.9" height="3.9" fill="#0a0a0a"/>
<rect x="232.55" y="460.15" width="3.9" height="3.9" fill="#0a0a0a"/>
<rect x="241.55" y="461.15" width="3.9" height="3.9" fill="#0a0a0a"/>
<rect x="250.55" y="463.15" width="3.9" height="3.9" fill="#0a0a0a"/>
<line x1="85.90" y1="415.00" x2="77.76" y2="420.24" stroke="#222" stroke-width="1.1" />
<polygon points="74.40,422.40 76.74,418.64 78.79,421.83" fill="#222"/>
<text x="75.40" y="411.60" font-size="9.3" text-anchor="start" font-weight="bold" fill="#000" stroke="#000" stroke-width="0.25" >0.02 C</text>
<text x="160.20" y="445.10" font-size="9.9" text-anchor="start" font-weight="bold" fill="#000" stroke="#000" stroke-width="0.25" >0.05 C</text>
<text x="136.70" y="496.70" font-size="9.3" text-anchor="start" font-weight="bold" fill="#000" stroke="#000" stroke-width="0.25" >Pouch-type Cell</text>
<text x="144.80" y="517.30" font-size="9.8" text-anchor="start" font-weight="bold" fill="#000" stroke="#000" stroke-width="0.25" >4.7 mg cm<tspan dy="-4.0" font-size="6.2">-2</tspan></text>
<text x="3.40" y="21.60" font-size="21" text-anchor="start" font-weight="normal" fill="#000" >(a)</text>
<text x="273.40" y="21.40" font-size="21" text-anchor="start" font-weight="normal" fill="#000" >(b)</text>
<text x="3.00" y="206.30" font-size="21" text-anchor="start" font-weight="normal" fill="#000" >(c)</text>
<text x="272.00" y="205.60" font-size="21" text-anchor="start" font-weight="normal" fill="#000" >(d)</text>
<text x="3.50" y="404.90" font-size="21" text-anchor="start" font-weight="normal" fill="#000" >(e)</text>
<text x="279.10" y="405.40" font-size="21" text-anchor="start" font-weight="normal" fill="#000" >(f)</text>
</svg>
</body></html>
